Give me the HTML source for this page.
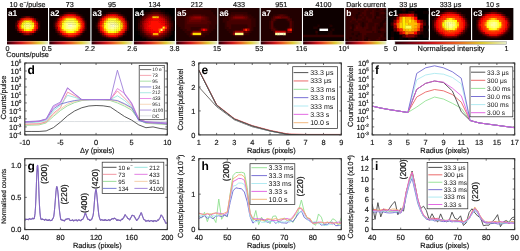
<!DOCTYPE html><html><head><meta charset="utf-8"><style>html,body{margin:0;padding:0;background:#fff;overflow:hidden}svg{display:block;text-rendering:geometricPrecision}</style></head><body><svg width="520" height="251" viewBox="0 0 520 251">
<defs><linearGradient id="hotg" x1="0" x2="1" y1="0" y2="0"><stop offset="0" stop-color="#2a0006"/><stop offset="0.15" stop-color="#7a0010"/><stop offset="0.35" stop-color="#d01818"/><stop offset="0.55" stop-color="#e86020"/><stop offset="0.78" stop-color="#dcc830"/><stop offset="1" stop-color="#e4ecc8"/></linearGradient><filter id="bl" x="-5%" y="-5%" width="110%" height="110%"><feGaussianBlur stdDeviation="0.55"/></filter></defs>
<rect width="520" height="251" fill="#fff"/>
<rect x="7.00" y="8.0" width="41.0" height="33.0" fill="#000"/>
<clipPath id="ic0"><rect x="7.00" y="8.0" width="41.0" height="33.0"/></clipPath><g clip-path="url(#ic0)"><g filter="url(#bl)">
<path fill="#110000" d="M7.00 8.00h41.00v2.41h-41.00zM7.00 10.06h41.00v2.41h-41.00zM7.00 12.12h41.00v2.41h-41.00zM7.00 14.19h41.00v2.41h-41.00zM7.00 16.25h14.70v2.41h-14.70zM33.65 16.25h14.35v2.41h-14.35zM7.00 18.31h10.60v2.41h-10.60zM37.75 18.31h10.25v2.41h-10.25zM7.00 20.38h8.55v2.41h-8.55zM39.80 20.38h8.20v2.41h-8.20zM7.00 22.44h8.55v2.41h-8.55zM39.80 22.44h8.20v2.41h-8.20zM7.00 24.50h8.55v2.41h-8.55zM39.80 24.50h8.20v2.41h-8.20zM7.00 26.56h8.55v2.41h-8.55zM39.80 26.56h8.20v2.41h-8.20zM7.00 28.62h8.55v2.41h-8.55zM39.80 28.62h8.20v2.41h-8.20zM7.00 30.69h10.60v2.41h-10.60zM37.75 30.69h10.25v2.41h-10.25zM7.00 32.75h14.70v2.41h-14.70zM33.65 32.75h14.35v2.41h-14.35zM7.00 34.81h41.00v2.41h-41.00zM7.00 36.88h41.00v2.41h-41.00zM7.00 38.94h41.00v2.06h-41.00z"/>
<path fill="#330000" d="M21.35 16.25h2.40v2.41h-2.40zM31.60 16.25h2.40v2.41h-2.40zM37.75 22.44h2.40v2.41h-2.40zM37.75 26.56h2.40v2.41h-2.40zM17.25 30.69h2.40v2.41h-2.40zM21.35 32.75h2.40v2.41h-2.40zM31.60 32.75h2.40v2.41h-2.40z"/>
<path fill="#550000" d="M23.40 16.25h2.40v2.41h-2.40zM29.55 16.25h2.40v2.41h-2.40zM15.20 24.50h2.40v2.41h-2.40z"/>
<path fill="#880000" d="M25.45 16.25h4.45v2.41h-4.45zM19.30 18.31h2.40v2.41h-2.40zM35.70 20.38h2.40v2.41h-2.40zM35.70 28.62h2.40v2.41h-2.40zM33.65 30.69h2.40v2.41h-2.40z"/>
<path fill="#220000" d="M17.25 18.31h2.40v2.41h-2.40zM35.70 18.31h2.40v2.41h-2.40zM15.20 20.38h2.40v2.41h-2.40zM37.75 20.38h2.40v2.41h-2.40zM15.20 28.62h2.40v2.41h-2.40zM37.75 28.62h2.40v2.41h-2.40zM35.70 30.69h2.40v2.41h-2.40z"/>
<path fill="#ee0000" d="M21.35 18.31h2.40v2.41h-2.40zM31.60 18.31h2.40v2.41h-2.40zM17.25 22.44h2.40v2.41h-2.40zM35.70 24.50h2.40v2.41h-2.40zM17.25 26.56h2.40v2.41h-2.40zM21.35 30.69h2.40v2.41h-2.40zM31.60 30.69h2.40v2.41h-2.40z"/>
<path fill="#ff2200" d="M23.40 18.31h2.40v2.41h-2.40zM29.55 18.31h2.40v2.41h-2.40zM23.40 30.69h2.40v2.41h-2.40zM29.55 30.69h2.40v2.41h-2.40z"/>
<path fill="#ff3300" d="M25.45 18.31h4.45v2.41h-4.45zM25.45 30.69h4.45v2.41h-4.45z"/>
<path fill="#770000" d="M33.65 18.31h2.40v2.41h-2.40zM23.40 32.75h2.40v2.41h-2.40z"/>
<path fill="#990000" d="M17.25 20.38h2.40v2.41h-2.40zM17.25 28.62h2.40v2.41h-2.40zM19.30 30.69h2.40v2.41h-2.40zM25.45 32.75h4.45v2.41h-4.45z"/>
<path fill="#ff1100" d="M19.30 20.38h2.40v2.41h-2.40zM19.30 28.62h2.40v2.41h-2.40zM33.65 28.62h2.40v2.41h-2.40z"/>
<path fill="#ff5500" d="M21.35 20.38h2.40v2.41h-2.40zM31.60 20.38h2.40v2.41h-2.40zM33.65 24.50h2.40v2.41h-2.40zM19.30 26.56h2.40v2.41h-2.40zM31.60 28.62h2.40v2.41h-2.40z"/>
<path fill="#ffdd00" d="M23.40 20.38h2.40v2.41h-2.40zM29.55 28.62h2.40v2.41h-2.40z"/>
<path fill="#ffff00" d="M25.45 20.38h4.45v2.41h-4.45zM21.35 22.44h2.40v2.41h-2.40zM21.35 26.56h2.40v2.41h-2.40zM31.60 26.56h2.40v2.41h-2.40zM25.45 28.62h4.45v2.41h-4.45z"/>
<path fill="#ffcc00" d="M29.55 20.38h2.40v2.41h-2.40z"/>
<path fill="#ff0000" d="M33.65 20.38h2.40v2.41h-2.40zM17.25 24.50h2.40v2.41h-2.40z"/>
<path fill="#440000" d="M15.20 22.44h2.40v2.41h-2.40zM37.75 24.50h2.40v2.41h-2.40zM15.20 26.56h2.40v2.41h-2.40z"/>
<path fill="#ff4400" d="M19.30 22.44h2.40v2.41h-2.40zM33.65 22.44h2.40v2.41h-2.40zM33.65 26.56h2.40v2.41h-2.40z"/>
<path fill="#ffff33" d="M23.40 22.44h2.40v2.41h-2.40zM29.55 22.44h2.40v2.41h-2.40zM29.55 26.56h2.40v2.41h-2.40z"/>
<path fill="#ffff66" d="M25.45 22.44h4.45v2.41h-4.45zM23.40 24.50h2.40v2.41h-2.40zM29.55 24.50h2.40v2.41h-2.40zM25.45 26.56h4.45v2.41h-4.45z"/>
<path fill="#ffee00" d="M31.60 22.44h2.40v2.41h-2.40zM23.40 28.62h2.40v2.41h-2.40z"/>
<path fill="#dd0000" d="M35.70 22.44h2.40v2.41h-2.40zM35.70 26.56h2.40v2.41h-2.40z"/>
<path fill="#ff7700" d="M19.30 24.50h2.40v2.41h-2.40z"/>
<path fill="#ffff1a" d="M21.35 24.50h2.40v2.41h-2.40zM31.60 24.50h2.40v2.41h-2.40z"/>
<path fill="#ffff80" d="M25.45 24.50h4.45v2.41h-4.45z"/>
<path fill="#ffff4c" d="M23.40 26.56h2.40v2.41h-2.40z"/>
<path fill="#ff6600" d="M21.35 28.62h2.40v2.41h-2.40z"/>
<path fill="#660000" d="M29.55 32.75h2.40v2.41h-2.40z"/>
</g></g>
<rect x="49.30" y="8.0" width="41.0" height="33.0" fill="#000"/>
<clipPath id="ic1"><rect x="49.30" y="8.0" width="41.0" height="33.0"/></clipPath><g clip-path="url(#ic1)"><g filter="url(#bl)">
<path fill="#110000" d="M49.30 8.00h41.00v2.41h-41.00zM49.30 10.06h41.00v2.41h-41.00zM49.30 12.12h14.70v2.41h-14.70zM78.00 12.12h12.30v2.41h-12.30zM49.30 14.19h10.60v2.41h-10.60zM82.10 14.19h8.20v2.41h-8.20zM49.30 16.25h8.55v2.41h-8.55zM84.15 16.25h6.15v2.41h-6.15zM49.30 18.31h6.50v2.41h-6.50zM84.15 18.31h6.15v2.41h-6.15zM49.30 20.38h4.45v2.41h-4.45zM86.20 20.38h4.10v2.41h-4.10zM49.30 22.44h4.45v2.41h-4.45zM86.20 22.44h4.10v2.41h-4.10zM49.30 24.50h4.45v2.41h-4.45zM86.20 24.50h4.10v2.41h-4.10zM49.30 26.56h4.45v2.41h-4.45zM86.20 26.56h4.10v2.41h-4.10zM49.30 28.62h6.50v2.41h-6.50zM86.20 28.62h4.10v2.41h-4.10zM49.30 30.69h6.50v2.41h-6.50zM84.15 30.69h6.15v2.41h-6.15zM49.30 32.75h8.55v2.41h-8.55zM82.10 32.75h8.20v2.41h-8.20zM49.30 34.81h10.60v2.41h-10.60zM80.05 34.81h10.25v2.41h-10.25zM49.30 36.88h16.75v2.41h-16.75zM75.95 36.88h14.35v2.41h-14.35zM49.30 38.94h41.00v2.06h-41.00z"/>
<path fill="#220000" d="M63.65 12.12h2.40v2.41h-2.40zM75.95 12.12h2.40v2.41h-2.40zM80.05 14.19h2.40v2.41h-2.40zM82.10 16.25h2.40v2.41h-2.40zM53.40 20.38h2.40v2.41h-2.40zM53.40 26.56h2.40v2.41h-2.40zM59.55 34.81h2.40v2.41h-2.40zM65.70 36.88h2.40v2.41h-2.40zM73.90 36.88h2.40v2.41h-2.40z"/>
<path fill="#330000" d="M65.70 12.12h2.40v2.41h-2.40zM73.90 12.12h2.40v2.41h-2.40zM59.55 14.19h2.40v2.41h-2.40zM57.50 16.25h2.40v2.41h-2.40zM55.45 18.31h2.40v2.41h-2.40zM84.15 20.38h2.40v2.41h-2.40zM53.40 22.44h2.40v2.41h-2.40zM53.40 24.50h2.40v2.41h-2.40zM84.15 28.62h2.40v2.41h-2.40zM55.45 30.69h2.40v2.41h-2.40zM57.50 32.75h2.40v2.41h-2.40zM78.00 34.81h2.40v2.41h-2.40zM67.75 36.88h6.50v2.41h-6.50z"/>
<path fill="#440000" d="M67.75 12.12h6.50v2.41h-6.50zM78.00 14.19h2.40v2.41h-2.40zM84.15 22.44h2.40v2.41h-2.40zM84.15 24.50h2.40v2.41h-2.40zM84.15 26.56h2.40v2.41h-2.40zM82.10 30.69h2.40v2.41h-2.40zM80.05 32.75h2.40v2.41h-2.40zM61.60 34.81h2.40v2.41h-2.40z"/>
<path fill="#550000" d="M61.60 14.19h2.40v2.41h-2.40zM80.05 16.25h2.40v2.41h-2.40zM82.10 18.31h2.40v2.41h-2.40zM55.45 20.38h2.40v2.41h-2.40zM55.45 28.62h2.40v2.41h-2.40zM75.95 34.81h2.40v2.41h-2.40z"/>
<path fill="#aa0000" d="M63.65 14.19h2.40v2.41h-2.40zM82.10 20.38h2.40v2.41h-2.40zM55.45 24.50h2.40v2.41h-2.40zM78.00 32.75h2.40v2.41h-2.40z"/>
<path fill="#dd0000" d="M65.70 14.19h2.40v2.41h-2.40zM78.00 16.25h2.40v2.41h-2.40zM80.05 18.31h2.40v2.41h-2.40zM82.10 26.56h2.40v2.41h-2.40zM61.60 32.75h2.40v2.41h-2.40zM67.75 34.81h4.45v2.41h-4.45z"/>
<path fill="#ff0000" d="M67.75 14.19h4.45v2.41h-4.45zM61.60 16.25h2.40v2.41h-2.40zM59.55 30.69h2.40v2.41h-2.40zM75.95 32.75h2.40v2.41h-2.40z"/>
<path fill="#ee0000" d="M71.85 14.19h2.40v2.41h-2.40zM57.50 20.38h2.40v2.41h-2.40zM82.10 22.44h2.40v2.41h-2.40zM82.10 24.50h2.40v2.41h-2.40zM57.50 28.62h2.40v2.41h-2.40z"/>
<path fill="#cc0000" d="M73.90 14.19h2.40v2.41h-2.40zM80.05 30.69h2.40v2.41h-2.40zM71.85 34.81h2.40v2.41h-2.40z"/>
<path fill="#770000" d="M75.95 14.19h2.40v2.41h-2.40zM57.50 30.69h2.40v2.41h-2.40zM59.55 32.75h2.40v2.41h-2.40zM63.65 34.81h2.40v2.41h-2.40z"/>
<path fill="#990000" d="M59.55 16.25h2.40v2.41h-2.40zM57.50 18.31h2.40v2.41h-2.40zM55.45 22.44h2.40v2.41h-2.40zM82.10 28.62h2.40v2.41h-2.40zM73.90 34.81h2.40v2.41h-2.40z"/>
<path fill="#ff2200" d="M63.65 16.25h2.40v2.41h-2.40zM78.00 18.31h2.40v2.41h-2.40zM80.05 20.38h2.40v2.41h-2.40zM57.50 24.50h2.40v2.41h-2.40zM78.00 30.69h2.40v2.41h-2.40zM73.90 32.75h2.40v2.41h-2.40z"/>
<path fill="#ff4400" d="M65.70 16.25h2.40v2.41h-2.40zM61.60 18.31h2.40v2.41h-2.40zM59.55 20.38h2.40v2.41h-2.40zM80.05 24.50h2.40v2.41h-2.40zM75.95 30.69h2.40v2.41h-2.40zM67.75 32.75h4.45v2.41h-4.45z"/>
<path fill="#ff5500" d="M67.75 16.25h6.50v2.41h-6.50zM75.95 18.31h2.40v2.41h-2.40zM59.55 26.56h2.40v2.41h-2.40zM78.00 28.62h2.40v2.41h-2.40z"/>
<path fill="#ff3300" d="M73.90 16.25h2.40v2.41h-2.40zM80.05 22.44h2.40v2.41h-2.40zM80.05 26.56h2.40v2.41h-2.40zM59.55 28.62h2.40v2.41h-2.40zM61.60 30.69h2.40v2.41h-2.40zM65.70 32.75h2.40v2.41h-2.40zM71.85 32.75h2.40v2.41h-2.40z"/>
<path fill="#ff1100" d="M75.95 16.25h2.40v2.41h-2.40zM59.55 18.31h2.40v2.41h-2.40zM57.50 22.44h2.40v2.41h-2.40zM57.50 26.56h2.40v2.41h-2.40zM80.05 28.62h2.40v2.41h-2.40zM63.65 32.75h2.40v2.41h-2.40z"/>
<path fill="#ff9900" d="M63.65 18.31h2.40v2.41h-2.40zM61.60 28.62h2.40v2.41h-2.40z"/>
<path fill="#ffff00" d="M65.70 18.31h2.40v2.41h-2.40zM75.95 20.38h2.40v2.41h-2.40zM61.60 22.44h2.40v2.41h-2.40zM61.60 26.56h2.40v2.41h-2.40zM67.75 30.69h6.50v2.41h-6.50z"/>
<path fill="#ffff1a" d="M67.75 18.31h6.50v2.41h-6.50zM63.65 20.38h2.40v2.41h-2.40zM61.60 24.50h2.40v2.41h-2.40zM75.95 26.56h2.40v2.41h-2.40zM63.65 28.62h2.40v2.41h-2.40z"/>
<path fill="#ffdd00" d="M73.90 18.31h2.40v2.41h-2.40zM78.00 24.50h2.40v2.41h-2.40zM65.70 30.69h2.40v2.41h-2.40z"/>
<path fill="#ffbb00" d="M61.60 20.38h2.40v2.41h-2.40zM78.00 22.44h2.40v2.41h-2.40z"/>
<path fill="#ffff4c" d="M65.70 20.38h2.40v2.41h-2.40zM63.65 22.44h2.40v2.41h-2.40zM63.65 24.50h2.40v2.41h-2.40zM63.65 26.56h2.40v2.41h-2.40zM67.75 28.62h2.40v2.41h-2.40zM71.85 28.62h2.40v2.41h-2.40z"/>
<path fill="#ffff66" d="M67.75 20.38h6.50v2.41h-6.50zM73.90 22.44h2.40v2.41h-2.40zM73.90 26.56h2.40v2.41h-2.40zM69.80 28.62h2.40v2.41h-2.40z"/>
<path fill="#ffff33" d="M73.90 20.38h2.40v2.41h-2.40zM75.95 22.44h2.40v2.41h-2.40zM75.95 24.50h2.40v2.41h-2.40zM65.70 28.62h2.40v2.41h-2.40zM73.90 28.62h2.40v2.41h-2.40z"/>
<path fill="#ff6600" d="M78.00 20.38h2.40v2.41h-2.40zM59.55 22.44h2.40v2.41h-2.40z"/>
<path fill="#ffff80" d="M65.70 22.44h2.40v2.41h-2.40zM71.85 22.44h2.40v2.41h-2.40zM65.70 24.50h2.40v2.41h-2.40zM73.90 24.50h2.40v2.41h-2.40zM65.70 26.56h2.40v2.41h-2.40zM71.85 26.56h2.40v2.41h-2.40z"/>
<path fill="#ffff99" d="M67.75 22.44h4.45v2.41h-4.45zM71.85 24.50h2.40v2.41h-2.40zM67.75 26.56h4.45v2.41h-4.45z"/>
<path fill="#ff7700" d="M59.55 24.50h2.40v2.41h-2.40zM63.65 30.69h2.40v2.41h-2.40z"/>
<path fill="#ffffb3" d="M67.75 24.50h2.40v2.41h-2.40z"/>
<path fill="#ffffcc" d="M69.80 24.50h2.40v2.41h-2.40z"/>
<path fill="#880000" d="M55.45 26.56h2.40v2.41h-2.40z"/>
<path fill="#ffaa00" d="M78.00 26.56h2.40v2.41h-2.40zM73.90 30.69h2.40v2.41h-2.40z"/>
<path fill="#ffee00" d="M75.95 28.62h2.40v2.41h-2.40z"/>
<path fill="#bb0000" d="M65.70 34.81h2.40v2.41h-2.40z"/>
</g></g>
<rect x="91.60" y="8.0" width="41.0" height="33.0" fill="#000"/>
<clipPath id="ic2"><rect x="91.60" y="8.0" width="41.0" height="33.0"/></clipPath><g clip-path="url(#ic2)"><g filter="url(#bl)">
<path fill="#110000" d="M91.60 8.00h41.00v2.41h-41.00zM91.60 10.06h41.00v2.41h-41.00zM91.60 12.12h14.70v2.41h-14.70zM120.30 12.12h12.30v2.41h-12.30zM91.60 14.19h10.60v2.41h-10.60zM124.40 14.19h8.20v2.41h-8.20zM91.60 16.25h8.55v2.41h-8.55zM126.45 16.25h6.15v2.41h-6.15zM91.60 18.31h6.50v2.41h-6.50zM126.45 18.31h6.15v2.41h-6.15zM91.60 20.38h6.50v2.41h-6.50zM128.50 20.38h4.10v2.41h-4.10zM91.60 22.44h4.45v2.41h-4.45zM128.50 22.44h4.10v2.41h-4.10zM91.60 24.50h4.45v2.41h-4.45zM128.50 24.50h4.10v2.41h-4.10zM91.60 26.56h4.45v2.41h-4.45zM128.50 26.56h4.10v2.41h-4.10zM91.60 28.62h6.50v2.41h-6.50zM128.50 28.62h4.10v2.41h-4.10zM91.60 30.69h6.50v2.41h-6.50zM126.45 30.69h6.15v2.41h-6.15zM91.60 32.75h8.55v2.41h-8.55zM126.45 32.75h6.15v2.41h-6.15zM91.60 34.81h10.60v2.41h-10.60zM122.35 34.81h10.25v2.41h-10.25zM91.60 36.88h14.70v2.41h-14.70zM118.25 36.88h14.35v2.41h-14.35zM91.60 38.94h41.00v2.06h-41.00z"/>
<path fill="#220000" d="M105.95 12.12h2.40v2.41h-2.40zM118.25 12.12h2.40v2.41h-2.40zM122.35 14.19h2.40v2.41h-2.40zM124.40 16.25h2.40v2.41h-2.40zM95.70 22.44h2.40v2.41h-2.40zM95.70 26.56h2.40v2.41h-2.40zM124.40 32.75h2.40v2.41h-2.40zM105.95 36.88h2.40v2.41h-2.40z"/>
<path fill="#330000" d="M108.00 12.12h2.40v2.41h-2.40zM116.20 12.12h2.40v2.41h-2.40zM101.85 14.19h2.40v2.41h-2.40zM99.80 16.25h2.40v2.41h-2.40zM97.75 18.31h2.40v2.41h-2.40zM126.45 20.38h2.40v2.41h-2.40zM95.70 24.50h2.40v2.41h-2.40zM126.45 28.62h2.40v2.41h-2.40zM97.75 30.69h2.40v2.41h-2.40zM99.80 32.75h2.40v2.41h-2.40zM101.85 34.81h2.40v2.41h-2.40zM108.00 36.88h2.40v2.41h-2.40zM116.20 36.88h2.40v2.41h-2.40z"/>
<path fill="#440000" d="M110.05 12.12h6.50v2.41h-6.50zM120.30 14.19h2.40v2.41h-2.40zM124.40 18.31h2.40v2.41h-2.40zM126.45 22.44h2.40v2.41h-2.40zM126.45 24.50h2.40v2.41h-2.40zM126.45 26.56h2.40v2.41h-2.40zM124.40 30.69h2.40v2.41h-2.40zM120.30 34.81h2.40v2.41h-2.40zM110.05 36.88h6.50v2.41h-6.50z"/>
<path fill="#550000" d="M103.90 14.19h2.40v2.41h-2.40zM122.35 16.25h2.40v2.41h-2.40zM97.75 20.38h2.40v2.41h-2.40zM97.75 28.62h2.40v2.41h-2.40zM122.35 32.75h2.40v2.41h-2.40zM103.90 34.81h2.40v2.41h-2.40z"/>
<path fill="#aa0000" d="M105.95 14.19h2.40v2.41h-2.40zM124.40 20.38h2.40v2.41h-2.40zM97.75 24.50h2.40v2.41h-2.40zM124.40 28.62h2.40v2.41h-2.40z"/>
<path fill="#dd0000" d="M108.00 14.19h2.40v2.41h-2.40zM120.30 16.25h2.40v2.41h-2.40zM122.35 18.31h2.40v2.41h-2.40zM124.40 22.44h2.40v2.41h-2.40zM124.40 26.56h2.40v2.41h-2.40zM122.35 30.69h2.40v2.41h-2.40zM108.00 34.81h2.40v2.41h-2.40z"/>
<path fill="#ee0000" d="M110.05 14.19h2.40v2.41h-2.40zM114.15 14.19h2.40v2.41h-2.40zM99.80 20.38h2.40v2.41h-2.40zM124.40 24.50h2.40v2.41h-2.40zM99.80 28.62h2.40v2.41h-2.40zM103.90 32.75h2.40v2.41h-2.40zM110.05 34.81h6.50v2.41h-6.50z"/>
<path fill="#ff0000" d="M112.10 14.19h2.40v2.41h-2.40zM103.90 16.25h2.40v2.41h-2.40zM101.85 30.69h2.40v2.41h-2.40z"/>
<path fill="#cc0000" d="M116.20 14.19h2.40v2.41h-2.40zM120.30 32.75h2.40v2.41h-2.40zM116.20 34.81h2.40v2.41h-2.40z"/>
<path fill="#770000" d="M118.25 14.19h2.40v2.41h-2.40zM118.25 34.81h2.40v2.41h-2.40z"/>
<path fill="#990000" d="M101.85 16.25h2.40v2.41h-2.40zM99.80 18.31h2.40v2.41h-2.40zM97.75 22.44h2.40v2.41h-2.40zM99.80 30.69h2.40v2.41h-2.40zM105.95 34.81h2.40v2.41h-2.40z"/>
<path fill="#ff2200" d="M105.95 16.25h2.40v2.41h-2.40zM120.30 18.31h2.40v2.41h-2.40zM122.35 20.38h2.40v2.41h-2.40zM99.80 24.50h2.40v2.41h-2.40zM122.35 28.62h2.40v2.41h-2.40zM120.30 30.69h2.40v2.41h-2.40zM105.95 32.75h2.40v2.41h-2.40z"/>
<path fill="#ff4400" d="M108.00 16.25h2.40v2.41h-2.40zM114.15 16.25h2.40v2.41h-2.40zM103.90 18.31h2.40v2.41h-2.40zM122.35 24.50h2.40v2.41h-2.40zM103.90 30.69h2.40v2.41h-2.40zM108.00 32.75h2.40v2.41h-2.40zM114.15 32.75h2.40v2.41h-2.40z"/>
<path fill="#ff5500" d="M110.05 16.25h4.45v2.41h-4.45zM118.25 18.31h2.40v2.41h-2.40zM120.30 20.38h2.40v2.41h-2.40zM101.85 22.44h2.40v2.41h-2.40zM101.85 26.56h2.40v2.41h-2.40zM120.30 28.62h2.40v2.41h-2.40zM118.25 30.69h2.40v2.41h-2.40zM110.05 32.75h4.45v2.41h-4.45z"/>
<path fill="#ff3300" d="M116.20 16.25h2.40v2.41h-2.40zM101.85 20.38h2.40v2.41h-2.40zM122.35 22.44h2.40v2.41h-2.40zM122.35 26.56h2.40v2.41h-2.40zM101.85 28.62h2.40v2.41h-2.40zM116.20 32.75h2.40v2.41h-2.40z"/>
<path fill="#ff1100" d="M118.25 16.25h2.40v2.41h-2.40zM101.85 18.31h2.40v2.41h-2.40zM99.80 22.44h2.40v2.41h-2.40zM99.80 26.56h2.40v2.41h-2.40zM118.25 32.75h2.40v2.41h-2.40z"/>
<path fill="#ff9900" d="M105.95 18.31h2.40v2.41h-2.40zM105.95 30.69h2.40v2.41h-2.40z"/>
<path fill="#ffff00" d="M108.00 18.31h2.40v2.41h-2.40zM118.25 20.38h2.40v2.41h-2.40zM103.90 22.44h2.40v2.41h-2.40zM103.90 26.56h2.40v2.41h-2.40zM118.25 28.62h2.40v2.41h-2.40zM108.00 30.69h2.40v2.41h-2.40zM114.15 30.69h2.40v2.41h-2.40z"/>
<path fill="#ffff1a" d="M110.05 18.31h6.50v2.41h-6.50zM105.95 20.38h2.40v2.41h-2.40zM103.90 24.50h2.40v2.41h-2.40zM105.95 28.62h2.40v2.41h-2.40zM110.05 30.69h4.45v2.41h-4.45z"/>
<path fill="#ffcc00" d="M116.20 18.31h2.40v2.41h-2.40zM116.20 30.69h2.40v2.41h-2.40z"/>
<path fill="#ffaa00" d="M103.90 20.38h2.40v2.41h-2.40zM103.90 28.62h2.40v2.41h-2.40z"/>
<path fill="#ffff4c" d="M108.00 20.38h2.40v2.41h-2.40zM114.15 20.38h2.40v2.41h-2.40zM105.95 22.44h2.40v2.41h-2.40zM105.95 24.50h2.40v2.41h-2.40zM105.95 26.56h2.40v2.41h-2.40zM108.00 28.62h2.40v2.41h-2.40zM114.15 28.62h2.40v2.41h-2.40z"/>
<path fill="#ffff66" d="M110.05 20.38h4.45v2.41h-4.45zM116.20 22.44h2.40v2.41h-2.40zM116.20 26.56h2.40v2.41h-2.40zM110.05 28.62h4.45v2.41h-4.45z"/>
<path fill="#ffff33" d="M116.20 20.38h2.40v2.41h-2.40zM118.25 22.44h2.40v2.41h-2.40zM118.25 24.50h2.40v2.41h-2.40zM118.25 26.56h2.40v2.41h-2.40zM116.20 28.62h2.40v2.41h-2.40z"/>
<path fill="#ffff80" d="M108.00 22.44h2.40v2.41h-2.40zM114.15 22.44h2.40v2.41h-2.40zM108.00 24.50h2.40v2.41h-2.40zM116.20 24.50h2.40v2.41h-2.40zM108.00 26.56h2.40v2.41h-2.40zM114.15 26.56h2.40v2.41h-2.40z"/>
<path fill="#ffff99" d="M110.05 22.44h4.45v2.41h-4.45zM114.15 24.50h2.40v2.41h-2.40zM110.05 26.56h4.45v2.41h-4.45z"/>
<path fill="#ffbb00" d="M120.30 22.44h2.40v2.41h-2.40zM120.30 26.56h2.40v2.41h-2.40z"/>
<path fill="#ff7700" d="M101.85 24.50h2.40v2.41h-2.40z"/>
<path fill="#ffffb3" d="M110.05 24.50h2.40v2.41h-2.40z"/>
<path fill="#ffffcc" d="M112.10 24.50h2.40v2.41h-2.40z"/>
<path fill="#ffdd00" d="M120.30 24.50h2.40v2.41h-2.40z"/>
<path fill="#880000" d="M97.75 26.56h2.40v2.41h-2.40zM101.85 32.75h2.40v2.41h-2.40z"/>
</g></g>
<rect x="133.90" y="8.0" width="41.0" height="33.0" fill="#000"/>
<clipPath id="ic3"><rect x="133.90" y="8.0" width="41.0" height="33.0"/></clipPath><g clip-path="url(#ic3)"><g filter="url(#bl)">
<path fill="#110000" d="M152.35 8.00h6.50v2.41h-6.50zM146.20 10.06h4.45v2.41h-4.45zM160.55 10.06h4.45v2.41h-4.45zM142.10 12.12h2.40v2.41h-2.40zM164.65 12.12h4.45v2.41h-4.45zM140.05 14.19h2.40v2.41h-2.40zM168.75 14.19h2.40v2.41h-2.40zM138.00 16.25h2.40v2.41h-2.40zM170.80 16.25h2.40v2.41h-2.40zM135.95 18.31h2.40v2.41h-2.40zM170.80 18.31h2.40v2.41h-2.40zM135.95 20.38h2.40v2.41h-2.40zM172.85 20.38h2.05v2.41h-2.05zM135.95 22.44h2.40v2.41h-2.40zM172.85 22.44h2.05v2.41h-2.05zM135.95 24.50h2.40v2.41h-2.40zM172.85 24.50h2.05v2.41h-2.05zM135.95 26.56h2.40v2.41h-2.40zM172.85 26.56h2.05v2.41h-2.05zM135.95 28.62h2.40v2.41h-2.40zM172.85 28.62h2.05v2.41h-2.05zM138.00 30.69h2.40v2.41h-2.40zM170.80 30.69h2.40v2.41h-2.40zM138.00 32.75h2.40v2.41h-2.40zM170.80 32.75h2.40v2.41h-2.40zM140.05 34.81h2.40v2.41h-2.40zM168.75 34.81h2.40v2.41h-2.40zM142.10 36.88h4.45v2.41h-4.45zM164.65 36.88h4.45v2.41h-4.45zM146.20 38.94h6.50v2.06h-6.50zM158.50 38.94h6.50v2.06h-6.50z"/>
<path fill="#220000" d="M150.30 10.06h10.60v2.41h-10.60zM144.15 12.12h4.45v2.41h-4.45zM162.60 12.12h2.40v2.41h-2.40zM142.10 14.19h2.40v2.41h-2.40zM166.70 14.19h2.40v2.41h-2.40zM140.05 16.25h2.40v2.41h-2.40zM168.75 16.25h2.40v2.41h-2.40zM138.00 18.31h2.40v2.41h-2.40zM138.00 20.38h2.40v2.41h-2.40zM170.80 20.38h2.40v2.41h-2.40zM170.80 26.56h2.40v2.41h-2.40zM138.00 28.62h2.40v2.41h-2.40zM170.80 28.62h2.40v2.41h-2.40zM140.05 32.75h2.40v2.41h-2.40zM168.75 32.75h2.40v2.41h-2.40zM142.10 34.81h2.40v2.41h-2.40zM166.70 34.81h2.40v2.41h-2.40zM146.20 36.88h2.40v2.41h-2.40zM162.60 36.88h2.40v2.41h-2.40zM152.35 38.94h6.50v2.06h-6.50z"/>
<path fill="#330000" d="M148.25 12.12h2.40v2.41h-2.40zM160.55 12.12h2.40v2.41h-2.40zM144.15 14.19h2.40v2.41h-2.40zM164.65 14.19h2.40v2.41h-2.40zM140.05 18.31h2.40v2.41h-2.40zM168.75 18.31h2.40v2.41h-2.40zM138.00 22.44h2.40v2.41h-2.40zM170.80 22.44h2.40v2.41h-2.40zM138.00 24.50h2.40v2.41h-2.40zM170.80 24.50h2.40v2.41h-2.40zM138.00 26.56h2.40v2.41h-2.40zM140.05 30.69h2.40v2.41h-2.40zM168.75 30.69h2.40v2.41h-2.40zM142.10 32.75h2.40v2.41h-2.40zM166.70 32.75h2.40v2.41h-2.40zM144.15 34.81h2.40v2.41h-2.40zM164.65 34.81h2.40v2.41h-2.40zM148.25 36.88h2.40v2.41h-2.40zM160.55 36.88h2.40v2.41h-2.40z"/>
<path fill="#440000" d="M150.30 12.12h2.40v2.41h-2.40zM158.50 12.12h2.40v2.41h-2.40zM142.10 16.25h2.40v2.41h-2.40zM166.70 16.25h2.40v2.41h-2.40zM168.75 20.38h2.40v2.41h-2.40zM140.05 28.62h2.40v2.41h-2.40zM168.75 28.62h2.40v2.41h-2.40zM146.20 34.81h2.40v2.41h-2.40zM162.60 34.81h2.40v2.41h-2.40zM150.30 36.88h10.60v2.41h-10.60z"/>
<path fill="#550000" d="M152.35 12.12h6.50v2.41h-6.50zM146.20 14.19h2.40v2.41h-2.40zM162.60 14.19h2.40v2.41h-2.40zM166.70 18.31h2.40v2.41h-2.40zM140.05 20.38h2.40v2.41h-2.40zM140.05 22.44h2.40v2.41h-2.40zM168.75 22.44h2.40v2.41h-2.40zM168.75 24.50h2.40v2.41h-2.40zM140.05 26.56h2.40v2.41h-2.40zM168.75 26.56h2.40v2.41h-2.40zM142.10 30.69h2.40v2.41h-2.40zM166.70 30.69h2.40v2.41h-2.40zM144.15 32.75h2.40v2.41h-2.40zM164.65 32.75h2.40v2.41h-2.40z"/>
<path fill="#770000" d="M148.25 14.19h2.40v2.41h-2.40zM160.55 14.19h2.40v2.41h-2.40zM166.70 20.38h2.40v2.41h-2.40zM142.10 28.62h2.40v2.41h-2.40zM166.70 28.62h2.40v2.41h-2.40zM162.60 32.75h2.40v2.41h-2.40zM150.30 34.81h2.40v2.41h-2.40zM158.50 34.81h2.40v2.41h-2.40z"/>
<path fill="#880000" d="M150.30 14.19h2.40v2.41h-2.40zM158.50 14.19h2.40v2.41h-2.40zM146.20 16.25h2.40v2.41h-2.40zM162.60 16.25h2.40v2.41h-2.40zM164.65 18.31h2.40v2.41h-2.40zM142.10 20.38h2.40v2.41h-2.40zM166.70 22.44h2.40v2.41h-2.40zM142.10 26.56h2.40v2.41h-2.40zM166.70 26.56h2.40v2.41h-2.40zM144.15 30.69h2.40v2.41h-2.40zM164.65 30.69h2.40v2.41h-2.40zM146.20 32.75h2.40v2.41h-2.40zM152.35 34.81h6.50v2.41h-6.50z"/>
<path fill="#990000" d="M152.35 14.19h6.50v2.41h-6.50zM144.15 18.31h2.40v2.41h-2.40zM142.10 22.44h2.40v2.41h-2.40zM142.10 24.50h2.40v2.41h-2.40zM166.70 24.50h2.40v2.41h-2.40zM148.25 32.75h2.40v2.41h-2.40zM160.55 32.75h2.40v2.41h-2.40z"/>
<path fill="#660000" d="M144.15 16.25h2.40v2.41h-2.40zM164.65 16.25h2.40v2.41h-2.40zM142.10 18.31h2.40v2.41h-2.40zM140.05 24.50h2.40v2.41h-2.40zM148.25 34.81h2.40v2.41h-2.40zM160.55 34.81h2.40v2.41h-2.40z"/>
<path fill="#aa0000" d="M148.25 16.25h2.40v2.41h-2.40zM160.55 16.25h2.40v2.41h-2.40zM164.65 20.38h2.40v2.41h-2.40zM144.15 28.62h2.40v2.41h-2.40zM164.65 28.62h2.40v2.41h-2.40zM146.20 30.69h2.40v2.41h-2.40zM162.60 30.69h2.40v2.41h-2.40z"/>
<path fill="#cc0000" d="M150.30 16.25h2.40v2.41h-2.40zM158.50 16.25h2.40v2.41h-2.40zM144.15 22.44h2.40v2.41h-2.40zM144.15 24.50h2.40v2.41h-2.40zM164.65 24.50h2.40v2.41h-2.40zM144.15 26.56h2.40v2.41h-2.40zM148.25 30.69h2.40v2.41h-2.40z"/>
<path fill="#ffbb00" d="M152.35 16.25h4.45v2.41h-4.45z"/>
<path fill="#ffaa00" d="M156.45 16.25h2.40v2.41h-2.40zM158.50 30.69h2.40v2.41h-2.40zM152.35 32.75h6.50v2.41h-6.50z"/>
<path fill="#bb0000" d="M146.20 18.31h2.40v2.41h-2.40zM162.60 18.31h2.40v2.41h-2.40zM144.15 20.38h2.40v2.41h-2.40zM164.65 22.44h2.40v2.41h-2.40zM150.30 32.75h2.40v2.41h-2.40zM158.50 32.75h2.40v2.41h-2.40z"/>
<path fill="#dd0000" d="M148.25 18.31h2.40v2.41h-2.40zM160.55 18.31h2.40v2.41h-2.40zM146.20 20.38h2.40v2.41h-2.40zM162.60 20.38h2.40v2.41h-2.40zM146.20 28.62h2.40v2.41h-2.40z"/>
<path fill="#ee0000" d="M150.30 18.31h2.40v2.41h-2.40zM158.50 18.31h2.40v2.41h-2.40zM160.55 20.38h2.40v2.41h-2.40zM146.20 22.44h2.40v2.41h-2.40zM162.60 22.44h2.40v2.41h-2.40zM146.20 24.50h2.40v2.41h-2.40zM162.60 24.50h2.40v2.41h-2.40zM146.20 26.56h2.40v2.41h-2.40zM148.25 28.62h2.40v2.41h-2.40zM150.30 30.69h4.45v2.41h-4.45z"/>
<path fill="#ff0000" d="M152.35 18.31h6.50v2.41h-6.50zM148.25 20.38h2.40v2.41h-2.40zM158.50 20.38h2.40v2.41h-2.40zM148.25 22.44h2.40v2.41h-2.40zM160.55 22.44h2.40v2.41h-2.40zM148.25 26.56h2.40v2.41h-2.40zM150.30 28.62h2.40v2.41h-2.40zM154.40 30.69h4.45v2.41h-4.45z"/>
<path fill="#ff1100" d="M150.30 20.38h8.55v2.41h-8.55zM150.30 22.44h10.60v2.41h-10.60zM148.25 24.50h14.70v2.41h-14.70zM150.30 26.56h12.65v2.41h-12.65zM152.35 28.62h6.50v2.41h-6.50zM160.55 30.69h2.40v2.41h-2.40z"/>
<path fill="#ffff1a" d="M162.60 26.56h2.40v2.41h-2.40z"/>
<path fill="#ff2200" d="M164.65 26.56h2.40v2.41h-2.40z"/>
<path fill="#ff6600" d="M158.50 28.62h2.40v2.41h-2.40z"/>
<path fill="#ffff66" d="M160.55 28.62h2.40v2.41h-2.40z"/>
<path fill="#ff3300" d="M162.60 28.62h2.40v2.41h-2.40z"/>
</g></g>
<rect x="176.20" y="8.0" width="41.0" height="33.0" fill="#000"/>
<clipPath id="ic4"><rect x="176.20" y="8.0" width="41.0" height="33.0"/></clipPath><g clip-path="url(#ic4)"><g filter="url(#bl)">
<path fill="#220000" d="M176.20 8.00h14.70v2.41h-14.70zM202.85 8.00h14.35v2.41h-14.35zM176.20 10.06h6.50v2.41h-6.50zM211.05 10.06h6.15v2.41h-6.15zM176.20 12.12h4.45v2.41h-4.45zM213.10 12.12h4.10v2.41h-4.10zM176.20 14.19h2.40v2.41h-2.40zM215.15 14.19h2.05v2.41h-2.05zM176.20 24.50h2.40v2.41h-2.40zM215.15 24.50h2.05v2.41h-2.05zM176.20 26.56h4.45v2.41h-4.45zM215.15 26.56h2.05v2.41h-2.05zM176.20 28.62h6.50v2.41h-6.50zM213.10 28.62h4.10v2.41h-4.10zM176.20 30.69h8.55v2.41h-8.55zM211.05 30.69h6.15v2.41h-6.15zM176.20 32.75h10.60v2.41h-10.60zM209.00 32.75h8.20v2.41h-8.20zM176.20 34.81h12.65v2.41h-12.65zM204.90 34.81h12.30v2.41h-12.30zM176.20 36.88h41.00v2.41h-41.00zM176.20 38.94h41.00v2.06h-41.00z"/>
<path fill="#330000" d="M190.55 8.00h12.65v2.41h-12.65zM182.35 10.06h29.05v2.41h-29.05zM180.30 12.12h33.15v2.41h-33.15zM178.25 14.19h10.60v2.41h-10.60zM204.90 14.19h10.60v2.41h-10.60zM176.20 16.25h8.55v2.41h-8.55zM209.00 16.25h8.20v2.41h-8.20zM176.20 18.31h8.55v2.41h-8.55zM209.00 18.31h8.20v2.41h-8.20zM176.20 20.38h8.55v2.41h-8.55zM211.05 20.38h6.15v2.41h-6.15zM176.20 22.44h8.55v2.41h-8.55zM211.05 22.44h6.15v2.41h-6.15zM178.25 24.50h6.50v2.41h-6.50zM209.00 24.50h6.50v2.41h-6.50zM180.30 26.56h4.45v2.41h-4.45zM190.55 26.56h10.60v2.41h-10.60zM209.00 26.56h6.50v2.41h-6.50zM182.35 28.62h4.45v2.41h-4.45zM190.55 28.62h8.55v2.41h-8.55zM209.00 28.62h4.45v2.41h-4.45zM184.40 30.69h6.50v2.41h-6.50zM206.95 30.69h4.45v2.41h-4.45zM186.45 32.75h4.45v2.41h-4.45zM202.85 32.75h6.50v2.41h-6.50zM188.50 34.81h16.75v2.41h-16.75z"/>
<path fill="#440000" d="M188.50 14.19h4.45v2.41h-4.45zM200.80 14.19h4.45v2.41h-4.45zM184.40 16.25h2.40v2.41h-2.40zM206.95 16.25h2.40v2.41h-2.40zM184.40 18.31h2.40v2.41h-2.40zM206.95 18.31h2.40v2.41h-2.40zM184.40 20.38h2.40v2.41h-2.40zM209.00 20.38h2.40v2.41h-2.40zM184.40 22.44h2.40v2.41h-2.40zM206.95 22.44h4.45v2.41h-4.45zM184.40 24.50h24.95v2.41h-24.95zM184.40 26.56h6.50v2.41h-6.50zM200.80 26.56h8.55v2.41h-8.55zM186.45 28.62h4.45v2.41h-4.45zM198.75 28.62h2.40v2.41h-2.40zM206.95 28.62h2.40v2.41h-2.40zM190.55 30.69h2.40v2.41h-2.40zM200.80 30.69h2.40v2.41h-2.40zM204.90 30.69h2.40v2.41h-2.40zM200.80 32.75h2.40v2.41h-2.40z"/>
<path fill="#550000" d="M192.60 14.19h8.55v2.41h-8.55zM186.45 16.25h2.40v2.41h-2.40zM204.90 16.25h2.40v2.41h-2.40zM186.45 18.31h2.40v2.41h-2.40zM204.90 18.31h2.40v2.41h-2.40zM186.45 20.38h2.40v2.41h-2.40zM200.80 20.38h8.55v2.41h-8.55zM186.45 22.44h20.85v2.41h-20.85zM202.85 30.69h2.40v2.41h-2.40z"/>
<path fill="#660000" d="M188.50 16.25h2.40v2.41h-2.40zM202.85 16.25h2.40v2.41h-2.40zM188.50 18.31h2.40v2.41h-2.40zM200.80 18.31h4.45v2.41h-4.45zM188.50 20.38h12.65v2.41h-12.65z"/>
<path fill="#770000" d="M190.55 16.25h2.40v2.41h-2.40zM200.80 16.25h2.40v2.41h-2.40zM190.55 18.31h10.60v2.41h-10.60z"/>
<path fill="#880000" d="M192.60 16.25h2.40v2.41h-2.40zM192.60 30.69h8.55v2.41h-8.55zM190.55 32.75h2.40v2.41h-2.40z"/>
<path fill="#990000" d="M194.65 16.25h6.50v2.41h-6.50zM200.80 28.62h2.40v2.41h-2.40z"/>
<path fill="#ff0000" d="M202.85 28.62h2.40v2.41h-2.40z"/>
<path fill="#aa0000" d="M204.90 28.62h2.40v2.41h-2.40z"/>
<path fill="#ffdd00" d="M192.60 32.75h8.55v2.41h-8.55z"/>
</g></g>
<rect x="218.50" y="8.0" width="41.0" height="33.0" fill="#000"/>
<clipPath id="ic5"><rect x="218.50" y="8.0" width="41.0" height="33.0"/></clipPath><g clip-path="url(#ic5)"><g filter="url(#bl)">
<path fill="#220000" d="M218.50 8.00h41.00v2.41h-41.00zM218.50 10.06h41.00v2.41h-41.00zM218.50 12.12h12.65v2.41h-12.65zM247.20 12.12h12.30v2.41h-12.30zM218.50 14.19h8.55v2.41h-8.55zM251.30 14.19h8.20v2.41h-8.20zM218.50 16.25h6.50v2.41h-6.50zM253.35 16.25h6.15v2.41h-6.15zM218.50 18.31h4.45v2.41h-4.45zM255.40 18.31h4.10v2.41h-4.10zM218.50 20.38h4.45v2.41h-4.45zM255.40 20.38h4.10v2.41h-4.10zM218.50 22.44h6.50v2.41h-6.50zM255.40 22.44h4.10v2.41h-4.10zM218.50 24.50h6.50v2.41h-6.50zM255.40 24.50h4.10v2.41h-4.10zM218.50 26.56h6.50v2.41h-6.50zM253.35 26.56h6.15v2.41h-6.15zM218.50 28.62h8.55v2.41h-8.55zM253.35 28.62h6.15v2.41h-6.15zM218.50 30.69h10.60v2.41h-10.60zM251.30 30.69h8.20v2.41h-8.20zM218.50 32.75h12.65v2.41h-12.65zM249.25 32.75h10.25v2.41h-10.25zM218.50 34.81h16.75v2.41h-16.75zM243.10 34.81h16.40v2.41h-16.40zM218.50 36.88h41.00v2.41h-41.00zM218.50 38.94h41.00v2.06h-41.00z"/>
<path fill="#330000" d="M230.80 12.12h16.75v2.41h-16.75zM226.70 14.19h4.45v2.41h-4.45zM247.20 14.19h4.45v2.41h-4.45zM224.65 16.25h4.45v2.41h-4.45zM249.25 16.25h4.45v2.41h-4.45zM222.60 18.31h6.50v2.41h-6.50zM251.30 18.31h4.45v2.41h-4.45zM222.60 20.38h4.45v2.41h-4.45zM251.30 20.38h4.45v2.41h-4.45zM224.65 22.44h2.40v2.41h-2.40zM251.30 22.44h4.45v2.41h-4.45zM224.65 24.50h2.40v2.41h-2.40zM230.80 24.50h16.75v2.41h-16.75zM251.30 24.50h4.45v2.41h-4.45zM224.65 26.56h4.45v2.41h-4.45zM230.80 26.56h16.75v2.41h-16.75zM251.30 26.56h2.40v2.41h-2.40zM226.70 28.62h14.70v2.41h-14.70zM251.30 28.62h2.40v2.41h-2.40zM228.75 30.69h4.45v2.41h-4.45zM249.25 30.69h2.40v2.41h-2.40zM230.80 32.75h2.40v2.41h-2.40zM245.15 32.75h4.45v2.41h-4.45zM234.90 34.81h8.55v2.41h-8.55z"/>
<path fill="#440000" d="M230.80 14.19h4.45v2.41h-4.45zM243.10 14.19h4.45v2.41h-4.45zM228.75 16.25h2.40v2.41h-2.40zM247.20 16.25h2.40v2.41h-2.40zM228.75 18.31h2.40v2.41h-2.40zM247.20 18.31h4.45v2.41h-4.45zM226.70 20.38h24.95v2.41h-24.95zM226.70 22.44h24.95v2.41h-24.95zM226.70 24.50h4.45v2.41h-4.45zM247.20 24.50h4.45v2.41h-4.45zM228.75 26.56h2.40v2.41h-2.40zM247.20 26.56h4.45v2.41h-4.45zM241.05 28.62h2.40v2.41h-2.40zM249.25 28.62h2.40v2.41h-2.40zM247.20 30.69h2.40v2.41h-2.40zM243.10 32.75h2.40v2.41h-2.40z"/>
<path fill="#550000" d="M234.90 14.19h8.55v2.41h-8.55zM230.80 16.25h2.40v2.41h-2.40zM230.80 18.31h16.75v2.41h-16.75zM232.85 30.69h2.40v2.41h-2.40zM243.10 30.69h2.40v2.41h-2.40z"/>
<path fill="#770000" d="M232.85 16.25h2.40v2.41h-2.40zM243.10 16.25h2.40v2.41h-2.40z"/>
<path fill="#880000" d="M234.90 16.25h8.55v2.41h-8.55zM232.85 32.75h2.40v2.41h-2.40z"/>
<path fill="#660000" d="M245.15 16.25h2.40v2.41h-2.40zM245.15 30.69h2.40v2.41h-2.40z"/>
<path fill="#bb0000" d="M243.10 28.62h2.40v2.41h-2.40z"/>
<path fill="#ff3300" d="M245.15 28.62h2.40v2.41h-2.40z"/>
<path fill="#aa0000" d="M247.20 28.62h2.40v2.41h-2.40zM241.05 30.69h2.40v2.41h-2.40z"/>
<path fill="#990000" d="M234.90 30.69h6.50v2.41h-6.50z"/>
<path fill="#ffff80" d="M234.90 32.75h8.55v2.41h-8.55z"/>
</g></g>
<rect x="260.80" y="8.0" width="41.0" height="33.0" fill="#000"/>
<clipPath id="ic6"><rect x="260.80" y="8.0" width="41.0" height="33.0"/></clipPath><g clip-path="url(#ic6)"><g filter="url(#bl)">
<path fill="#220000" d="M260.80 8.00h41.00v2.41h-41.00zM260.80 10.06h41.00v2.41h-41.00zM260.80 12.12h41.00v2.41h-41.00zM260.80 14.19h12.65v2.41h-12.65zM287.45 14.19h14.35v2.41h-14.35zM260.80 16.25h10.60v2.41h-10.60zM289.50 16.25h12.30v2.41h-12.30zM260.80 18.31h10.60v2.41h-10.60zM277.20 18.31h8.55v2.41h-8.55zM291.55 18.31h10.25v2.41h-10.25zM260.80 20.38h8.55v2.41h-8.55zM275.15 20.38h12.65v2.41h-12.65zM293.60 20.38h8.20v2.41h-8.20zM260.80 22.44h8.55v2.41h-8.55zM273.10 22.44h16.75v2.41h-16.75zM293.60 22.44h8.20v2.41h-8.20zM260.80 24.50h8.55v2.41h-8.55zM273.10 24.50h16.75v2.41h-16.75zM293.60 24.50h8.20v2.41h-8.20zM260.80 26.56h8.55v2.41h-8.55zM275.15 26.56h12.65v2.41h-12.65zM293.60 26.56h8.20v2.41h-8.20zM260.80 28.62h10.60v2.41h-10.60zM277.20 28.62h8.55v2.41h-8.55zM293.60 28.62h8.20v2.41h-8.20zM260.80 30.69h12.65v2.41h-12.65zM291.55 30.69h10.25v2.41h-10.25zM260.80 32.75h12.65v2.41h-12.65zM287.45 32.75h14.35v2.41h-14.35zM260.80 34.81h41.00v2.41h-41.00zM260.80 36.88h41.00v2.41h-41.00zM260.80 38.94h41.00v2.06h-41.00z"/>
<path fill="#330000" d="M273.10 14.19h4.45v2.41h-4.45zM285.40 14.19h2.40v2.41h-2.40zM271.05 16.25h2.40v2.41h-2.40zM275.15 18.31h2.40v2.41h-2.40zM285.40 18.31h2.40v2.41h-2.40zM269.00 20.38h2.40v2.41h-2.40zM273.10 20.38h2.40v2.41h-2.40zM287.45 20.38h2.40v2.41h-2.40zM291.55 20.38h2.40v2.41h-2.40zM269.00 22.44h2.40v2.41h-2.40zM291.55 22.44h2.40v2.41h-2.40zM269.00 24.50h2.40v2.41h-2.40zM291.55 24.50h2.40v2.41h-2.40zM269.00 26.56h2.40v2.41h-2.40zM273.10 26.56h2.40v2.41h-2.40zM287.45 26.56h2.40v2.41h-2.40zM291.55 26.56h2.40v2.41h-2.40zM275.15 28.62h2.40v2.41h-2.40zM285.40 28.62h2.40v2.41h-2.40zM291.55 28.62h2.40v2.41h-2.40zM273.10 32.75h2.40v2.41h-2.40zM285.40 32.75h2.40v2.41h-2.40z"/>
<path fill="#440000" d="M277.20 14.19h2.40v2.41h-2.40zM283.35 14.19h2.40v2.41h-2.40zM287.45 16.25h2.40v2.41h-2.40zM271.05 18.31h2.40v2.41h-2.40zM289.50 18.31h2.40v2.41h-2.40zM271.05 28.62h2.40v2.41h-2.40zM273.10 30.69h2.40v2.41h-2.40z"/>
<path fill="#550000" d="M279.25 14.19h4.45v2.41h-4.45zM273.10 16.25h2.40v2.41h-2.40zM273.10 18.31h2.40v2.41h-2.40zM287.45 18.31h2.40v2.41h-2.40zM271.05 20.38h2.40v2.41h-2.40zM289.50 20.38h2.40v2.41h-2.40zM271.05 22.44h2.40v2.41h-2.40zM289.50 22.44h2.40v2.41h-2.40zM271.05 24.50h2.40v2.41h-2.40zM289.50 24.50h2.40v2.41h-2.40zM271.05 26.56h2.40v2.41h-2.40zM289.50 26.56h2.40v2.41h-2.40zM273.10 28.62h2.40v2.41h-2.40zM285.40 30.69h2.40v2.41h-2.40z"/>
<path fill="#770000" d="M275.15 16.25h2.40v2.41h-2.40zM279.25 16.25h2.40v2.41h-2.40zM287.45 30.69h4.45v2.41h-4.45z"/>
<path fill="#880000" d="M277.20 16.25h2.40v2.41h-2.40z"/>
<path fill="#660000" d="M281.30 16.25h6.50v2.41h-6.50z"/>
<path fill="#dd0000" d="M287.45 28.62h2.40v2.41h-2.40z"/>
<path fill="#ff2200" d="M289.50 28.62h2.40v2.41h-2.40z"/>
<path fill="#cc0000" d="M275.15 30.69h2.40v2.41h-2.40z"/>
<path fill="#bb0000" d="M277.20 30.69h8.55v2.41h-8.55z"/>
<path fill="#ffff99" d="M275.15 32.75h2.40v2.41h-2.40z"/>
<path fill="#ffffb3" d="M277.20 32.75h2.40v2.41h-2.40zM283.35 32.75h2.40v2.41h-2.40z"/>
<path fill="#ffffcc" d="M279.25 32.75h4.45v2.41h-4.45z"/>
</g></g>
<rect x="303.10" y="8.0" width="41.0" height="33.0" fill="#000"/>
<clipPath id="ic7"><rect x="303.10" y="8.0" width="41.0" height="33.0"/></clipPath><g clip-path="url(#ic7)"><g filter="url(#bl)">
<path fill="#110000" d="M303.10 8.00h41.00v2.41h-41.00zM303.10 10.06h41.00v2.41h-41.00zM303.10 12.12h41.00v2.41h-41.00zM303.10 14.19h41.00v2.41h-41.00zM303.10 16.25h41.00v2.41h-41.00zM303.10 18.31h41.00v2.41h-41.00zM303.10 20.38h41.00v2.41h-41.00zM303.10 22.44h41.00v2.41h-41.00zM303.10 24.50h14.70v2.41h-14.70zM319.50 24.50h10.60v2.41h-10.60zM331.80 24.50h12.30v2.41h-12.30zM303.10 26.56h10.60v2.41h-10.60zM317.45 26.56h26.65v2.41h-26.65zM303.10 28.62h16.75v2.41h-16.75zM327.70 28.62h4.45v2.41h-4.45zM333.85 28.62h10.25v2.41h-10.25zM303.10 30.69h12.65v2.41h-12.65zM317.45 30.69h12.65v2.41h-12.65zM331.80 30.69h12.30v2.41h-12.30zM303.10 32.75h12.65v2.41h-12.65zM317.45 32.75h10.60v2.41h-10.60zM331.80 32.75h12.30v2.41h-12.30zM303.10 36.88h41.00v2.41h-41.00zM303.10 38.94h41.00v2.06h-41.00z"/>
<path fill="#220000" d="M317.45 24.50h2.40v2.41h-2.40zM329.75 24.50h2.40v2.41h-2.40zM313.35 26.56h4.45v2.41h-4.45zM331.80 28.62h2.40v2.41h-2.40zM329.75 30.69h2.40v2.41h-2.40zM315.40 32.75h2.40v2.41h-2.40zM327.70 32.75h4.45v2.41h-4.45z"/>
<path fill="#ffffff" d="M319.50 28.62h8.55v2.41h-8.55z"/>
<path fill="#330000" d="M315.40 30.69h2.40v2.41h-2.40zM303.10 34.81h41.00v2.41h-41.00z"/>
</g></g>
<rect x="345.40" y="8.0" width="41.0" height="33.0" fill="#000"/>
<clipPath id="ic8"><rect x="345.40" y="8.0" width="41.0" height="33.0"/></clipPath><g clip-path="url(#ic8)"><g filter="url(#bl)">
<path fill="#330000" d="M345.40 8.00h12.65v2.41h-12.65zM359.75 8.00h6.50v2.41h-6.50zM367.95 8.00h8.55v2.41h-8.55zM378.20 8.00h2.40v2.41h-2.40zM382.30 8.00h4.10v2.41h-4.10zM347.45 10.06h16.75v2.41h-16.75zM365.90 10.06h6.50v2.41h-6.50zM374.10 10.06h10.60v2.41h-10.60zM347.45 12.12h10.60v2.41h-10.60zM359.75 12.12h2.40v2.41h-2.40zM365.90 12.12h4.45v2.41h-4.45zM374.10 12.12h2.40v2.41h-2.40zM378.20 12.12h2.40v2.41h-2.40zM384.35 12.12h2.05v2.41h-2.05zM345.40 14.19h2.40v2.41h-2.40zM349.50 14.19h6.50v2.41h-6.50zM357.70 14.19h2.40v2.41h-2.40zM361.80 14.19h2.40v2.41h-2.40zM365.90 14.19h6.50v2.41h-6.50zM374.10 14.19h2.40v2.41h-2.40zM378.20 14.19h6.50v2.41h-6.50zM345.40 16.25h6.50v2.41h-6.50zM353.60 16.25h2.40v2.41h-2.40zM357.70 16.25h4.45v2.41h-4.45zM363.85 16.25h2.40v2.41h-2.40zM367.95 16.25h4.45v2.41h-4.45zM380.25 16.25h6.15v2.41h-6.15zM345.40 18.31h6.50v2.41h-6.50zM355.65 18.31h2.40v2.41h-2.40zM361.80 18.31h4.45v2.41h-4.45zM372.05 18.31h12.65v2.41h-12.65zM345.40 20.38h4.45v2.41h-4.45zM351.55 20.38h4.45v2.41h-4.45zM357.70 20.38h10.60v2.41h-10.60zM372.05 20.38h10.60v2.41h-10.60zM384.35 20.38h2.05v2.41h-2.05zM345.40 22.44h12.65v2.41h-12.65zM359.75 22.44h2.40v2.41h-2.40zM363.85 22.44h2.40v2.41h-2.40zM367.95 22.44h6.50v2.41h-6.50zM378.20 22.44h2.40v2.41h-2.40zM382.30 22.44h2.40v2.41h-2.40zM345.40 24.50h6.50v2.41h-6.50zM353.60 24.50h2.40v2.41h-2.40zM359.75 24.50h2.40v2.41h-2.40zM363.85 24.50h2.40v2.41h-2.40zM367.95 24.50h6.50v2.41h-6.50zM376.15 24.50h4.45v2.41h-4.45zM382.30 24.50h4.10v2.41h-4.10zM345.40 26.56h4.45v2.41h-4.45zM353.60 26.56h2.40v2.41h-2.40zM361.80 26.56h2.40v2.41h-2.40zM367.95 26.56h4.45v2.41h-4.45zM376.15 26.56h2.40v2.41h-2.40zM380.25 26.56h6.15v2.41h-6.15zM345.40 28.62h6.50v2.41h-6.50zM365.90 28.62h6.50v2.41h-6.50zM376.15 28.62h4.45v2.41h-4.45zM384.35 28.62h2.05v2.41h-2.05zM345.40 30.69h14.70v2.41h-14.70zM372.05 30.69h2.40v2.41h-2.40zM376.15 30.69h2.40v2.41h-2.40zM380.25 30.69h6.15v2.41h-6.15zM345.40 32.75h6.50v2.41h-6.50zM353.60 32.75h4.45v2.41h-4.45zM359.75 32.75h2.40v2.41h-2.40zM365.90 32.75h18.80v2.41h-18.80zM345.40 34.81h10.60v2.41h-10.60zM357.70 34.81h4.45v2.41h-4.45zM363.85 34.81h16.75v2.41h-16.75zM382.30 34.81h2.40v2.41h-2.40zM345.40 36.88h4.45v2.41h-4.45zM351.55 36.88h10.60v2.41h-10.60zM363.85 36.88h2.40v2.41h-2.40zM367.95 36.88h10.60v2.41h-10.60zM380.25 36.88h6.15v2.41h-6.15zM347.45 38.94h8.55v2.06h-8.55zM357.70 38.94h4.45v2.06h-4.45zM370.00 38.94h6.50v2.06h-6.50zM380.25 38.94h4.45v2.06h-4.45z"/>
<path fill="#220000" d="M357.70 8.00h2.40v2.41h-2.40zM376.15 8.00h2.40v2.41h-2.40zM384.35 10.06h2.05v2.41h-2.05zM357.70 12.12h2.40v2.41h-2.40zM376.15 12.12h2.40v2.41h-2.40zM347.45 14.19h2.40v2.41h-2.40zM355.65 14.19h2.40v2.41h-2.40zM376.15 14.19h2.40v2.41h-2.40zM384.35 14.19h2.05v2.41h-2.05zM355.65 16.25h2.40v2.41h-2.40zM374.10 16.25h2.40v2.41h-2.40zM384.35 18.31h2.05v2.41h-2.05zM382.30 20.38h2.40v2.41h-2.40zM361.80 22.44h2.40v2.41h-2.40zM380.25 22.44h2.40v2.41h-2.40zM351.55 24.50h2.40v2.41h-2.40zM361.80 24.50h2.40v2.41h-2.40zM380.25 24.50h2.40v2.41h-2.40zM351.55 26.56h2.40v2.41h-2.40zM378.20 26.56h2.40v2.41h-2.40zM351.55 28.62h2.40v2.41h-2.40zM378.20 30.69h2.40v2.41h-2.40zM351.55 32.75h2.40v2.41h-2.40zM357.70 32.75h2.40v2.41h-2.40zM384.35 32.75h2.05v2.41h-2.05zM355.65 34.81h2.40v2.41h-2.40zM384.35 34.81h2.05v2.41h-2.05zM349.50 36.88h2.40v2.41h-2.40zM365.90 36.88h2.40v2.41h-2.40zM345.40 38.94h2.40v2.06h-2.40zM355.65 38.94h2.40v2.06h-2.40zM363.85 38.94h4.45v2.06h-4.45zM384.35 38.94h2.05v2.06h-2.05z"/>
<path fill="#440000" d="M365.90 8.00h2.40v2.41h-2.40zM380.25 8.00h2.40v2.41h-2.40zM345.40 10.06h2.40v2.41h-2.40zM363.85 10.06h2.40v2.41h-2.40zM372.05 10.06h2.40v2.41h-2.40zM345.40 12.12h2.40v2.41h-2.40zM361.80 12.12h4.45v2.41h-4.45zM370.00 12.12h4.45v2.41h-4.45zM380.25 12.12h4.45v2.41h-4.45zM359.75 14.19h2.40v2.41h-2.40zM363.85 14.19h2.40v2.41h-2.40zM372.05 14.19h2.40v2.41h-2.40zM351.55 16.25h2.40v2.41h-2.40zM361.80 16.25h2.40v2.41h-2.40zM365.90 16.25h2.40v2.41h-2.40zM372.05 16.25h2.40v2.41h-2.40zM376.15 16.25h4.45v2.41h-4.45zM351.55 18.31h4.45v2.41h-4.45zM357.70 18.31h4.45v2.41h-4.45zM365.90 18.31h6.50v2.41h-6.50zM349.50 20.38h2.40v2.41h-2.40zM355.65 20.38h2.40v2.41h-2.40zM367.95 20.38h4.45v2.41h-4.45zM357.70 22.44h2.40v2.41h-2.40zM365.90 22.44h2.40v2.41h-2.40zM374.10 22.44h4.45v2.41h-4.45zM384.35 22.44h2.05v2.41h-2.05zM355.65 24.50h4.45v2.41h-4.45zM365.90 24.50h2.40v2.41h-2.40zM374.10 24.50h2.40v2.41h-2.40zM349.50 26.56h2.40v2.41h-2.40zM357.70 26.56h4.45v2.41h-4.45zM363.85 26.56h4.45v2.41h-4.45zM372.05 26.56h4.45v2.41h-4.45zM353.60 28.62h12.65v2.41h-12.65zM372.05 28.62h4.45v2.41h-4.45zM380.25 28.62h4.45v2.41h-4.45zM359.75 30.69h12.65v2.41h-12.65zM374.10 30.69h2.40v2.41h-2.40zM361.80 32.75h4.45v2.41h-4.45zM361.80 34.81h2.40v2.41h-2.40zM380.25 34.81h2.40v2.41h-2.40zM361.80 36.88h2.40v2.41h-2.40zM378.20 36.88h2.40v2.41h-2.40zM361.80 38.94h2.40v2.06h-2.40zM367.95 38.94h2.40v2.06h-2.40zM376.15 38.94h4.45v2.06h-4.45z"/>
<path fill="#550000" d="M355.65 26.56h2.40v2.41h-2.40z"/>
</g></g>
<rect x="387.70" y="8.0" width="41.0" height="32.0" fill="#000"/>
<clipPath id="ic9"><rect x="387.70" y="8.0" width="41.0" height="32.0"/></clipPath><g clip-path="url(#ic9)"><g filter="url(#bl)">
<path fill="#110000" d="M387.70 8.00h3.28v3.26h-3.28zM393.56 8.00h3.28v3.26h-3.28zM399.41 8.00h3.28v3.26h-3.28zM414.06 8.00h3.28v3.26h-3.28zM387.70 10.91h3.28v3.26h-3.28zM402.34 10.91h3.28v3.26h-3.28zM422.84 10.91h5.86v3.26h-5.86zM387.70 13.82h3.28v3.26h-3.28zM390.63 16.73h3.28v3.26h-3.28zM390.63 19.64h3.28v3.26h-3.28zM390.63 25.45h3.28v3.26h-3.28zM425.77 25.45h2.93v3.26h-2.93zM422.84 28.36h3.28v3.26h-3.28zM390.63 31.27h3.28v3.26h-3.28zM396.49 31.27h3.28v3.26h-3.28zM422.84 31.27h5.86v3.26h-5.86zM390.63 34.18h3.28v3.26h-3.28zM399.41 34.18h3.28v3.26h-3.28zM416.99 34.18h3.28v3.26h-3.28zM422.84 34.18h5.86v3.26h-5.86zM399.41 37.09h3.28v2.91h-3.28zM411.13 37.09h3.28v2.91h-3.28zM416.99 37.09h3.28v2.91h-3.28z"/>
<path fill="#220000" d="M402.34 8.00h3.28v3.26h-3.28zM408.20 10.91h3.28v3.26h-3.28zM393.56 16.73h3.28v3.26h-3.28zM422.84 19.64h3.28v3.26h-3.28zM419.91 31.27h3.28v3.26h-3.28zM390.63 37.09h3.28v2.91h-3.28zM408.20 37.09h3.28v2.91h-3.28z"/>
<path fill="#330000" d="M411.13 10.91h3.28v3.26h-3.28zM396.49 13.82h3.28v3.26h-3.28zM390.63 22.55h3.28v3.26h-3.28z"/>
<path fill="#aa0000" d="M399.41 13.82h3.28v3.26h-3.28zM396.49 16.73h3.28v3.26h-3.28z"/>
<path fill="#bb0000" d="M402.34 13.82h3.28v3.26h-3.28zM399.41 31.27h3.28v3.26h-3.28z"/>
<path fill="#cc0000" d="M405.27 13.82h3.28v3.26h-3.28zM411.13 13.82h3.28v3.26h-3.28zM393.56 22.55h3.28v3.26h-3.28zM419.91 22.55h3.28v3.26h-3.28z"/>
<path fill="#ee0000" d="M408.20 13.82h3.28v3.26h-3.28z"/>
<path fill="#440000" d="M414.06 13.82h3.28v3.26h-3.28zM422.84 22.55h3.28v3.26h-3.28zM414.06 34.18h3.28v3.26h-3.28z"/>
<path fill="#ff7700" d="M399.41 16.73h3.28v3.26h-3.28zM414.06 19.64h3.28v3.26h-3.28z"/>
<path fill="#ffdd00" d="M402.34 16.73h3.28v3.26h-3.28zM405.27 22.55h3.28v3.26h-3.28z"/>
<path fill="#ffaa00" d="M405.27 16.73h6.21v3.26h-6.21zM414.06 25.45h3.28v3.26h-3.28zM402.34 28.36h3.28v3.26h-3.28zM411.13 28.36h3.28v3.26h-3.28z"/>
<path fill="#ff6600" d="M411.13 16.73h3.28v3.26h-3.28zM396.49 22.55h3.28v3.26h-3.28zM416.99 22.55h3.28v3.26h-3.28zM396.49 25.45h3.28v3.26h-3.28zM416.99 25.45h3.28v3.26h-3.28zM408.20 31.27h6.21v3.26h-6.21z"/>
<path fill="#ff0000" d="M414.06 16.73h3.28v3.26h-3.28zM414.06 31.27h3.28v3.26h-3.28z"/>
<path fill="#770000" d="M393.56 19.64h3.28v3.26h-3.28zM419.91 19.64h3.28v3.26h-3.28z"/>
<path fill="#ff2200" d="M396.49 19.64h3.28v3.26h-3.28zM402.34 31.27h3.28v3.26h-3.28z"/>
<path fill="#ff9900" d="M399.41 19.64h3.28v3.26h-3.28z"/>
<path fill="#ffee00" d="M402.34 19.64h3.28v3.26h-3.28zM408.20 19.64h3.28v3.26h-3.28zM402.34 22.55h3.28v3.26h-3.28zM402.34 25.45h3.28v3.26h-3.28z"/>
<path fill="#ffbb00" d="M405.27 19.64h3.28v3.26h-3.28zM411.13 19.64h3.28v3.26h-3.28zM408.20 22.55h9.14v3.26h-9.14zM411.13 25.45h3.28v3.26h-3.28zM405.27 28.36h3.28v3.26h-3.28z"/>
<path fill="#dd0000" d="M416.99 19.64h3.28v3.26h-3.28zM396.49 28.36h3.28v3.26h-3.28z"/>
<path fill="#ffcc00" d="M399.41 22.55h3.28v3.26h-3.28zM399.41 25.45h3.28v3.26h-3.28zM408.20 28.36h3.28v3.26h-3.28z"/>
<path fill="#990000" d="M393.56 25.45h3.28v3.26h-3.28zM419.91 25.45h3.28v3.26h-3.28zM405.27 34.18h3.28v3.26h-3.28z"/>
<path fill="#ffff4c" d="M405.27 25.45h6.21v3.26h-6.21z"/>
<path fill="#550000" d="M393.56 28.36h3.28v3.26h-3.28zM402.34 34.18h3.28v3.26h-3.28z"/>
<path fill="#ff3300" d="M399.41 28.36h3.28v3.26h-3.28zM416.99 28.36h3.28v3.26h-3.28z"/>
<path fill="#ff8800" d="M414.06 28.36h3.28v3.26h-3.28zM405.27 31.27h3.28v3.26h-3.28z"/>
<path fill="#660000" d="M419.91 28.36h3.28v3.26h-3.28zM416.99 31.27h3.28v3.26h-3.28z"/>
<path fill="#880000" d="M408.20 34.18h6.21v3.26h-6.21z"/>
</g></g>
<rect x="430.00" y="8.0" width="41.0" height="32.0" fill="#000"/>
<clipPath id="ic10"><rect x="430.00" y="8.0" width="41.0" height="32.0"/></clipPath><g clip-path="url(#ic10)"><g filter="url(#bl)">
<path fill="#110000" d="M430.00 8.00h41.00v2.35h-41.00zM430.00 10.00h14.70v2.35h-14.70zM456.65 10.00h14.35v2.35h-14.35zM430.00 12.00h10.60v2.35h-10.60zM460.75 12.00h10.25v2.35h-10.25zM430.00 14.00h6.50v2.35h-6.50zM464.85 14.00h6.15v2.35h-6.15zM430.00 16.00h4.45v2.35h-4.45zM464.85 16.00h6.15v2.35h-6.15zM430.00 18.00h4.45v2.35h-4.45zM466.90 18.00h4.10v2.35h-4.10zM430.00 20.00h2.40v2.35h-2.40zM468.95 20.00h2.05v2.35h-2.05zM430.00 22.00h2.40v2.35h-2.40zM468.95 22.00h2.05v2.35h-2.05zM430.00 24.00h2.40v2.35h-2.40zM468.95 24.00h2.05v2.35h-2.05zM430.00 26.00h2.40v2.35h-2.40zM468.95 26.00h2.05v2.35h-2.05zM430.00 28.00h2.40v2.35h-2.40zM466.90 28.00h4.10v2.35h-4.10zM430.00 30.00h4.45v2.35h-4.45zM466.90 30.00h4.10v2.35h-4.10zM430.00 32.00h6.50v2.35h-6.50zM464.85 32.00h6.15v2.35h-6.15zM430.00 34.00h8.55v2.35h-8.55zM462.80 34.00h8.20v2.35h-8.20zM430.00 36.00h12.65v2.35h-12.65zM458.70 36.00h12.30v2.35h-12.30zM430.00 38.00h41.00v2.00h-41.00z"/>
<path fill="#220000" d="M444.35 10.00h2.40v2.35h-2.40zM452.55 10.00h4.45v2.35h-4.45zM436.15 14.00h2.40v2.35h-2.40zM462.80 14.00h2.40v2.35h-2.40zM434.10 16.00h2.40v2.35h-2.40zM466.90 20.00h2.40v2.35h-2.40zM466.90 22.00h2.40v2.35h-2.40zM466.90 26.00h2.40v2.35h-2.40zM432.05 28.00h2.40v2.35h-2.40zM464.85 30.00h2.40v2.35h-2.40zM460.75 34.00h2.40v2.35h-2.40zM456.65 36.00h2.40v2.35h-2.40z"/>
<path fill="#330000" d="M446.40 10.00h6.50v2.35h-6.50zM440.25 12.00h2.40v2.35h-2.40zM458.70 12.00h2.40v2.35h-2.40zM464.85 18.00h2.40v2.35h-2.40zM432.05 20.00h2.40v2.35h-2.40zM432.05 22.00h2.40v2.35h-2.40zM432.05 24.00h2.40v2.35h-2.40zM466.90 24.00h2.40v2.35h-2.40zM432.05 26.00h2.40v2.35h-2.40zM434.10 30.00h2.40v2.35h-2.40zM462.80 32.00h2.40v2.35h-2.40zM438.20 34.00h2.40v2.35h-2.40zM442.30 36.00h2.40v2.35h-2.40z"/>
<path fill="#550000" d="M442.30 12.00h2.40v2.35h-2.40zM438.20 14.00h2.40v2.35h-2.40zM436.15 16.00h2.40v2.35h-2.40zM464.85 20.00h2.40v2.35h-2.40zM434.10 28.00h2.40v2.35h-2.40zM440.25 34.00h2.40v2.35h-2.40zM446.40 36.00h6.50v2.35h-6.50z"/>
<path fill="#880000" d="M444.35 12.00h2.40v2.35h-2.40zM458.70 14.00h2.40v2.35h-2.40zM434.10 26.00h2.40v2.35h-2.40zM436.15 30.00h2.40v2.35h-2.40zM438.20 32.00h2.40v2.35h-2.40zM456.65 34.00h2.40v2.35h-2.40z"/>
<path fill="#aa0000" d="M446.40 12.00h2.40v2.35h-2.40zM450.50 12.00h2.40v2.35h-2.40zM460.75 16.00h2.40v2.35h-2.40zM434.10 24.00h2.40v2.35h-2.40z"/>
<path fill="#bb0000" d="M448.45 12.00h2.40v2.35h-2.40zM436.15 18.00h2.40v2.35h-2.40zM462.80 28.00h2.40v2.35h-2.40z"/>
<path fill="#990000" d="M452.55 12.00h2.40v2.35h-2.40zM440.25 14.00h2.40v2.35h-2.40zM462.80 18.00h2.40v2.35h-2.40zM434.10 22.00h2.40v2.35h-2.40zM442.30 34.00h2.40v2.35h-2.40z"/>
<path fill="#770000" d="M454.60 12.00h2.40v2.35h-2.40zM434.10 20.00h2.40v2.35h-2.40zM464.85 22.00h2.40v2.35h-2.40zM464.85 24.00h2.40v2.35h-2.40z"/>
<path fill="#440000" d="M456.65 12.00h2.40v2.35h-2.40zM460.75 14.00h2.40v2.35h-2.40zM462.80 16.00h2.40v2.35h-2.40zM434.10 18.00h2.40v2.35h-2.40zM464.85 28.00h2.40v2.35h-2.40zM436.15 32.00h2.40v2.35h-2.40zM458.70 34.00h2.40v2.35h-2.40zM444.35 36.00h2.40v2.35h-2.40zM452.55 36.00h4.45v2.35h-4.45z"/>
<path fill="#ee0000" d="M442.30 14.00h2.40v2.35h-2.40zM458.70 16.00h2.40v2.35h-2.40zM460.75 18.00h2.40v2.35h-2.40zM436.15 20.00h2.40v2.35h-2.40zM462.80 22.00h2.40v2.35h-2.40zM462.80 24.00h2.40v2.35h-2.40zM462.80 26.00h2.40v2.35h-2.40zM438.20 30.00h2.40v2.35h-2.40zM446.40 34.00h8.55v2.35h-8.55z"/>
<path fill="#ff0000" d="M444.35 14.00h2.40v2.35h-2.40zM454.60 14.00h2.40v2.35h-2.40zM440.25 16.00h2.40v2.35h-2.40zM438.20 18.00h2.40v2.35h-2.40zM436.15 22.00h2.40v2.35h-2.40zM436.15 24.00h2.40v2.35h-2.40zM436.15 26.00h2.40v2.35h-2.40zM460.75 28.00h2.40v2.35h-2.40zM442.30 32.00h2.40v2.35h-2.40zM456.65 32.00h2.40v2.35h-2.40z"/>
<path fill="#ff1100" d="M446.40 14.00h8.55v2.35h-8.55zM460.75 20.00h2.40v2.35h-2.40zM438.20 28.00h2.40v2.35h-2.40zM440.25 30.00h2.40v2.35h-2.40zM458.70 30.00h2.40v2.35h-2.40zM454.60 32.00h2.40v2.35h-2.40z"/>
<path fill="#dd0000" d="M456.65 14.00h2.40v2.35h-2.40zM462.80 20.00h2.40v2.35h-2.40zM436.15 28.00h2.40v2.35h-2.40zM460.75 30.00h2.40v2.35h-2.40zM440.25 32.00h2.40v2.35h-2.40zM444.35 34.00h2.40v2.35h-2.40z"/>
<path fill="#cc0000" d="M438.20 16.00h2.40v2.35h-2.40zM458.70 32.00h2.40v2.35h-2.40zM454.60 34.00h2.40v2.35h-2.40z"/>
<path fill="#ff2200" d="M442.30 16.00h4.45v2.35h-4.45zM454.60 16.00h4.45v2.35h-4.45zM440.25 18.00h2.40v2.35h-2.40zM458.70 18.00h2.40v2.35h-2.40zM438.20 20.00h2.40v2.35h-2.40zM438.20 22.00h2.40v2.35h-2.40zM460.75 22.00h2.40v2.35h-2.40zM438.20 24.00h2.40v2.35h-2.40zM460.75 24.00h2.40v2.35h-2.40zM438.20 26.00h2.40v2.35h-2.40zM460.75 26.00h2.40v2.35h-2.40zM458.70 28.00h2.40v2.35h-2.40zM442.30 30.00h2.40v2.35h-2.40zM456.65 30.00h2.40v2.35h-2.40zM444.35 32.00h10.60v2.35h-10.60z"/>
<path fill="#ff3300" d="M446.40 16.00h8.55v2.35h-8.55zM442.30 18.00h2.40v2.35h-2.40zM456.65 18.00h2.40v2.35h-2.40zM440.25 20.00h2.40v2.35h-2.40zM458.70 20.00h2.40v2.35h-2.40zM458.70 22.00h2.40v2.35h-2.40zM458.70 24.00h2.40v2.35h-2.40zM440.25 26.00h2.40v2.35h-2.40zM458.70 26.00h2.40v2.35h-2.40zM440.25 28.00h2.40v2.35h-2.40zM456.65 28.00h2.40v2.35h-2.40zM444.35 30.00h2.40v2.35h-2.40zM454.60 30.00h2.40v2.35h-2.40z"/>
<path fill="#ff4400" d="M444.35 18.00h2.40v2.35h-2.40zM454.60 18.00h2.40v2.35h-2.40zM456.65 20.00h2.40v2.35h-2.40zM440.25 22.00h2.40v2.35h-2.40zM440.25 24.00h2.40v2.35h-2.40zM442.30 28.00h2.40v2.35h-2.40zM446.40 30.00h2.40v2.35h-2.40zM452.55 30.00h2.40v2.35h-2.40z"/>
<path fill="#ffbb00" d="M446.40 18.00h2.40v2.35h-2.40zM442.30 26.00h2.40v2.35h-2.40zM444.35 28.00h2.40v2.35h-2.40z"/>
<path fill="#ffee00" d="M448.45 18.00h4.45v2.35h-4.45zM442.30 22.00h2.40v2.35h-2.40z"/>
<path fill="#ff9900" d="M452.55 18.00h2.40v2.35h-2.40zM454.60 28.00h2.40v2.35h-2.40z"/>
<path fill="#ff7700" d="M442.30 20.00h2.40v2.35h-2.40zM456.65 26.00h2.40v2.35h-2.40z"/>
<path fill="#ffff1a" d="M444.35 20.00h2.40v2.35h-2.40zM454.60 26.00h2.40v2.35h-2.40zM446.40 28.00h2.40v2.35h-2.40zM452.55 28.00h2.40v2.35h-2.40z"/>
<path fill="#ffff4c" d="M446.40 20.00h6.50v2.35h-6.50zM444.35 22.00h2.40v2.35h-2.40zM444.35 24.00h2.40v2.35h-2.40zM452.55 26.00h2.40v2.35h-2.40z"/>
<path fill="#ffff33" d="M452.55 20.00h2.40v2.35h-2.40zM454.60 22.00h2.40v2.35h-2.40zM454.60 24.00h2.40v2.35h-2.40zM444.35 26.00h2.40v2.35h-2.40zM448.45 28.00h4.45v2.35h-4.45z"/>
<path fill="#ffff00" d="M454.60 20.00h2.40v2.35h-2.40zM442.30 24.00h2.40v2.35h-2.40z"/>
<path fill="#ffff80" d="M446.40 22.00h2.40v2.35h-2.40zM450.50 22.00h2.40v2.35h-2.40zM446.40 24.00h2.40v2.35h-2.40zM452.55 24.00h2.40v2.35h-2.40zM448.45 26.00h4.45v2.35h-4.45z"/>
<path fill="#ffff99" d="M448.45 22.00h2.40v2.35h-2.40zM448.45 24.00h4.45v2.35h-4.45z"/>
<path fill="#ffff66" d="M452.55 22.00h2.40v2.35h-2.40zM446.40 26.00h2.40v2.35h-2.40z"/>
<path fill="#ffaa00" d="M456.65 22.00h2.40v2.35h-2.40z"/>
<path fill="#ffcc00" d="M456.65 24.00h2.40v2.35h-2.40z"/>
<path fill="#660000" d="M464.85 26.00h2.40v2.35h-2.40zM462.80 30.00h2.40v2.35h-2.40zM460.75 32.00h2.40v2.35h-2.40z"/>
<path fill="#ff6600" d="M448.45 30.00h2.40v2.35h-2.40z"/>
<path fill="#ff5500" d="M450.50 30.00h2.40v2.35h-2.40z"/>
</g></g>
<rect x="472.30" y="8.0" width="41.0" height="32.0" fill="#000"/>
<clipPath id="ic11"><rect x="472.30" y="8.0" width="41.0" height="32.0"/></clipPath><g clip-path="url(#ic11)"><g filter="url(#bl)">
<path fill="#110000" d="M472.30 8.00h41.00v2.35h-41.00zM472.30 10.00h18.80v2.35h-18.80zM496.90 10.00h16.40v2.35h-16.40zM472.30 12.00h12.65v2.35h-12.65zM503.05 12.00h10.25v2.35h-10.25zM472.30 14.00h8.55v2.35h-8.55zM505.10 14.00h8.20v2.35h-8.20zM472.30 16.00h6.50v2.35h-6.50zM509.20 16.00h4.10v2.35h-4.10zM472.30 18.00h4.45v2.35h-4.45zM509.20 18.00h4.10v2.35h-4.10zM472.30 20.00h4.45v2.35h-4.45zM511.25 20.00h2.05v2.35h-2.05zM472.30 22.00h4.45v2.35h-4.45zM511.25 22.00h2.05v2.35h-2.05zM472.30 24.00h4.45v2.35h-4.45zM511.25 24.00h2.05v2.35h-2.05zM472.30 26.00h4.45v2.35h-4.45zM511.25 26.00h2.05v2.35h-2.05zM472.30 28.00h4.45v2.35h-4.45zM509.20 28.00h4.10v2.35h-4.10zM472.30 30.00h6.50v2.35h-6.50zM509.20 30.00h4.10v2.35h-4.10zM472.30 32.00h6.50v2.35h-6.50zM507.15 32.00h6.15v2.35h-6.15zM472.30 34.00h10.60v2.35h-10.60zM505.10 34.00h8.20v2.35h-8.20zM472.30 36.00h14.70v2.35h-14.70zM501.00 36.00h12.30v2.35h-12.30zM472.30 38.00h41.00v2.00h-41.00z"/>
<path fill="#220000" d="M490.75 10.00h6.50v2.35h-6.50zM501.00 12.00h2.40v2.35h-2.40zM507.15 16.00h2.40v2.35h-2.40zM476.40 18.00h2.40v2.35h-2.40zM509.20 20.00h2.40v2.35h-2.40zM509.20 26.00h2.40v2.35h-2.40zM478.45 32.00h2.40v2.35h-2.40zM503.05 34.00h2.40v2.35h-2.40zM486.65 36.00h2.40v2.35h-2.40zM498.95 36.00h2.40v2.35h-2.40z"/>
<path fill="#330000" d="M484.60 12.00h2.40v2.35h-2.40zM480.50 14.00h2.40v2.35h-2.40zM478.45 16.00h2.40v2.35h-2.40zM509.20 22.00h2.40v2.35h-2.40zM509.20 24.00h2.40v2.35h-2.40zM476.40 28.00h2.40v2.35h-2.40zM507.15 30.00h2.40v2.35h-2.40zM505.10 32.00h2.40v2.35h-2.40zM482.55 34.00h2.40v2.35h-2.40zM488.70 36.00h2.40v2.35h-2.40zM496.90 36.00h2.40v2.35h-2.40z"/>
<path fill="#440000" d="M486.65 12.00h2.40v2.35h-2.40zM498.95 12.00h2.40v2.35h-2.40zM503.05 14.00h2.40v2.35h-2.40zM505.10 16.00h2.40v2.35h-2.40zM507.15 18.00h2.40v2.35h-2.40zM476.40 20.00h2.40v2.35h-2.40zM476.40 22.00h2.40v2.35h-2.40zM476.40 26.00h2.40v2.35h-2.40zM507.15 28.00h2.40v2.35h-2.40zM478.45 30.00h2.40v2.35h-2.40zM480.50 32.00h2.40v2.35h-2.40zM501.00 34.00h2.40v2.35h-2.40zM490.75 36.00h6.50v2.35h-6.50z"/>
<path fill="#660000" d="M488.70 12.00h2.40v2.35h-2.40zM478.45 18.00h2.40v2.35h-2.40zM507.15 20.00h2.40v2.35h-2.40zM505.10 30.00h2.40v2.35h-2.40zM503.05 32.00h2.40v2.35h-2.40z"/>
<path fill="#880000" d="M490.75 12.00h4.45v2.35h-4.45zM507.15 22.00h2.40v2.35h-2.40zM478.45 28.00h2.40v2.35h-2.40z"/>
<path fill="#770000" d="M494.85 12.00h2.40v2.35h-2.40zM501.00 14.00h2.40v2.35h-2.40zM480.50 16.00h2.40v2.35h-2.40zM507.15 26.00h2.40v2.35h-2.40zM498.95 34.00h2.40v2.35h-2.40z"/>
<path fill="#550000" d="M496.90 12.00h2.40v2.35h-2.40zM482.55 14.00h2.40v2.35h-2.40zM476.40 24.00h2.40v2.35h-2.40zM484.60 34.00h2.40v2.35h-2.40z"/>
<path fill="#aa0000" d="M484.60 14.00h2.40v2.35h-2.40zM503.05 16.00h2.40v2.35h-2.40zM478.45 20.00h2.40v2.35h-2.40zM480.50 30.00h2.40v2.35h-2.40zM496.90 34.00h2.40v2.35h-2.40z"/>
<path fill="#ee0000" d="M486.65 14.00h2.40v2.35h-2.40zM496.90 14.00h2.40v2.35h-2.40zM501.00 16.00h2.40v2.35h-2.40zM505.10 20.00h2.40v2.35h-2.40zM505.10 26.00h2.40v2.35h-2.40zM480.50 28.00h2.40v2.35h-2.40zM484.60 32.00h2.40v2.35h-2.40z"/>
<path fill="#ff0000" d="M488.70 14.00h2.40v2.35h-2.40zM494.85 14.00h2.40v2.35h-2.40zM503.05 18.00h2.40v2.35h-2.40zM480.50 20.00h2.40v2.35h-2.40zM505.10 22.00h2.40v2.35h-2.40zM505.10 24.00h2.40v2.35h-2.40zM482.55 30.00h2.40v2.35h-2.40zM498.95 32.00h2.40v2.35h-2.40z"/>
<path fill="#ff1100" d="M490.75 14.00h4.45v2.35h-4.45zM484.60 16.00h2.40v2.35h-2.40zM482.55 18.00h2.40v2.35h-2.40zM480.50 22.00h2.40v2.35h-2.40zM480.50 26.00h2.40v2.35h-2.40zM503.05 28.00h2.40v2.35h-2.40zM501.00 30.00h2.40v2.35h-2.40zM486.65 32.00h2.40v2.35h-2.40zM496.90 32.00h2.40v2.35h-2.40z"/>
<path fill="#cc0000" d="M498.95 14.00h2.40v2.35h-2.40zM478.45 22.00h2.40v2.35h-2.40zM505.10 28.00h2.40v2.35h-2.40zM501.00 32.00h2.40v2.35h-2.40zM488.70 34.00h2.40v2.35h-2.40z"/>
<path fill="#dd0000" d="M482.55 16.00h2.40v2.35h-2.40zM480.50 18.00h2.40v2.35h-2.40zM478.45 24.00h2.40v2.35h-2.40zM503.05 30.00h2.40v2.35h-2.40zM490.75 34.00h6.50v2.35h-6.50z"/>
<path fill="#ff2200" d="M486.65 16.00h4.45v2.35h-4.45zM496.90 16.00h4.45v2.35h-4.45zM484.60 18.00h2.40v2.35h-2.40zM501.00 18.00h2.40v2.35h-2.40zM482.55 20.00h2.40v2.35h-2.40zM503.05 20.00h2.40v2.35h-2.40zM503.05 22.00h2.40v2.35h-2.40zM480.50 24.00h2.40v2.35h-2.40zM503.05 24.00h2.40v2.35h-2.40zM503.05 26.00h2.40v2.35h-2.40zM482.55 28.00h2.40v2.35h-2.40zM501.00 28.00h2.40v2.35h-2.40zM484.60 30.00h2.40v2.35h-2.40zM498.95 30.00h2.40v2.35h-2.40zM488.70 32.00h8.55v2.35h-8.55z"/>
<path fill="#ff3300" d="M490.75 16.00h6.50v2.35h-6.50zM486.65 18.00h2.40v2.35h-2.40zM498.95 18.00h2.40v2.35h-2.40zM484.60 20.00h2.40v2.35h-2.40zM501.00 20.00h2.40v2.35h-2.40zM482.55 22.00h2.40v2.35h-2.40zM501.00 22.00h2.40v2.35h-2.40zM482.55 24.00h2.40v2.35h-2.40zM482.55 26.00h2.40v2.35h-2.40zM501.00 26.00h2.40v2.35h-2.40zM484.60 28.00h2.40v2.35h-2.40zM498.95 28.00h2.40v2.35h-2.40zM486.65 30.00h4.45v2.35h-4.45zM494.85 30.00h4.45v2.35h-4.45z"/>
<path fill="#ff7700" d="M488.70 18.00h2.40v2.35h-2.40zM484.60 22.00h2.40v2.35h-2.40z"/>
<path fill="#ffbb00" d="M490.75 18.00h2.40v2.35h-2.40zM498.95 26.00h2.40v2.35h-2.40z"/>
<path fill="#ffcc00" d="M492.80 18.00h2.40v2.35h-2.40zM486.65 20.00h2.40v2.35h-2.40z"/>
<path fill="#ff9900" d="M494.85 18.00h2.40v2.35h-2.40zM484.60 24.00h2.40v2.35h-2.40z"/>
<path fill="#ff4400" d="M496.90 18.00h2.40v2.35h-2.40zM501.00 24.00h2.40v2.35h-2.40zM484.60 26.00h2.40v2.35h-2.40zM490.75 30.00h4.45v2.35h-4.45z"/>
<path fill="#990000" d="M505.10 18.00h2.40v2.35h-2.40zM507.15 24.00h2.40v2.35h-2.40zM482.55 32.00h2.40v2.35h-2.40zM486.65 34.00h2.40v2.35h-2.40z"/>
<path fill="#ffff33" d="M488.70 20.00h2.40v2.35h-2.40zM494.85 20.00h2.40v2.35h-2.40zM486.65 24.00h2.40v2.35h-2.40zM496.90 26.00h2.40v2.35h-2.40zM492.80 28.00h2.40v2.35h-2.40z"/>
<path fill="#ffff4c" d="M490.75 20.00h4.45v2.35h-4.45zM496.90 22.00h2.40v2.35h-2.40zM496.90 24.00h2.40v2.35h-2.40zM488.70 26.00h2.40v2.35h-2.40z"/>
<path fill="#ffff1a" d="M496.90 20.00h2.40v2.35h-2.40zM486.65 22.00h2.40v2.35h-2.40zM486.65 26.00h2.40v2.35h-2.40zM490.75 28.00h2.40v2.35h-2.40zM494.85 28.00h2.40v2.35h-2.40z"/>
<path fill="#ff6600" d="M498.95 20.00h2.40v2.35h-2.40zM486.65 28.00h2.40v2.35h-2.40z"/>
<path fill="#ffff66" d="M488.70 22.00h2.40v2.35h-2.40zM488.70 24.00h2.40v2.35h-2.40zM490.75 26.00h2.40v2.35h-2.40zM494.85 26.00h2.40v2.35h-2.40z"/>
<path fill="#ffff80" d="M490.75 22.00h2.40v2.35h-2.40zM494.85 22.00h2.40v2.35h-2.40zM494.85 24.00h2.40v2.35h-2.40zM492.80 26.00h2.40v2.35h-2.40z"/>
<path fill="#ffff99" d="M492.80 22.00h2.40v2.35h-2.40zM490.75 24.00h4.45v2.35h-4.45z"/>
<path fill="#ffee00" d="M498.95 22.00h2.40v2.35h-2.40z"/>
<path fill="#ffff00" d="M498.95 24.00h2.40v2.35h-2.40zM488.70 28.00h2.40v2.35h-2.40z"/>
<path fill="#bb0000" d="M478.45 26.00h2.40v2.35h-2.40z"/>
<path fill="#ffaa00" d="M496.90 28.00h2.40v2.35h-2.40z"/>
</g></g>
<text x="7.90" y="16.2" fill="#fff" font-size="8.4" font-weight="bold" style="font-family:'Liberation Sans',Arial,sans-serif">a1</text>
<text x="50.20" y="16.2" fill="#fff" font-size="8.4" font-weight="bold" style="font-family:'Liberation Sans',Arial,sans-serif">a2</text>
<text x="92.50" y="16.2" fill="#fff" font-size="8.4" font-weight="bold" style="font-family:'Liberation Sans',Arial,sans-serif">a3</text>
<text x="134.80" y="16.2" fill="#fff" font-size="8.4" font-weight="bold" style="font-family:'Liberation Sans',Arial,sans-serif">a4</text>
<text x="177.10" y="16.2" fill="#fff" font-size="8.4" font-weight="bold" style="font-family:'Liberation Sans',Arial,sans-serif">a5</text>
<text x="219.40" y="16.2" fill="#fff" font-size="8.4" font-weight="bold" style="font-family:'Liberation Sans',Arial,sans-serif">a6</text>
<text x="261.70" y="16.2" fill="#fff" font-size="8.4" font-weight="bold" style="font-family:'Liberation Sans',Arial,sans-serif">a7</text>
<text x="304.00" y="16.2" fill="#fff" font-size="8.4" font-weight="bold" style="font-family:'Liberation Sans',Arial,sans-serif">a8</text>
<text x="346.30" y="16.2" fill="#fff" font-size="8.4" font-weight="bold" style="font-family:'Liberation Sans',Arial,sans-serif">b</text>
<text x="388.60" y="16.2" fill="#fff" font-size="8.4" font-weight="bold" style="font-family:'Liberation Sans',Arial,sans-serif">c1</text>
<text x="430.90" y="16.2" fill="#fff" font-size="8.4" font-weight="bold" style="font-family:'Liberation Sans',Arial,sans-serif">c2</text>
<text x="473.20" y="16.2" fill="#fff" font-size="8.4" font-weight="bold" style="font-family:'Liberation Sans',Arial,sans-serif">c3</text>
<text x="27.50" y="6.6" fill="#111" font-size="7.2" text-anchor="middle" style="font-family:'Liberation Sans',Arial,sans-serif;stroke:#111;stroke-width:0.16">10 e<tspan dy="-2.5" font-size="5">−</tspan><tspan dy="2.5">/pulse</tspan></text>
<text x="69.80" y="6.6" fill="#111" font-size="7.2" text-anchor="middle" style="font-family:'Liberation Sans',Arial,sans-serif;stroke:#111;stroke-width:0.16">73</text>
<text x="112.10" y="6.6" fill="#111" font-size="7.2" text-anchor="middle" style="font-family:'Liberation Sans',Arial,sans-serif;stroke:#111;stroke-width:0.16">95</text>
<text x="154.40" y="6.6" fill="#111" font-size="7.2" text-anchor="middle" style="font-family:'Liberation Sans',Arial,sans-serif;stroke:#111;stroke-width:0.16">134</text>
<text x="196.70" y="6.6" fill="#111" font-size="7.2" text-anchor="middle" style="font-family:'Liberation Sans',Arial,sans-serif;stroke:#111;stroke-width:0.16">212</text>
<text x="239.00" y="6.6" fill="#111" font-size="7.2" text-anchor="middle" style="font-family:'Liberation Sans',Arial,sans-serif;stroke:#111;stroke-width:0.16">433</text>
<text x="281.30" y="6.6" fill="#111" font-size="7.2" text-anchor="middle" style="font-family:'Liberation Sans',Arial,sans-serif;stroke:#111;stroke-width:0.16">951</text>
<text x="323.60" y="6.6" fill="#111" font-size="7.2" text-anchor="middle" style="font-family:'Liberation Sans',Arial,sans-serif;stroke:#111;stroke-width:0.16">4100</text>
<text x="365.90" y="6.6" fill="#111" font-size="7.2" text-anchor="middle" style="font-family:'Liberation Sans',Arial,sans-serif;stroke:#111;stroke-width:0.16">Dark current</text>
<text x="408.20" y="6.6" fill="#111" font-size="7.2" text-anchor="middle" style="font-family:'Liberation Sans',Arial,sans-serif;stroke:#111;stroke-width:0.16">33 μs</text>
<text x="450.50" y="6.6" fill="#111" font-size="7.2" text-anchor="middle" style="font-family:'Liberation Sans',Arial,sans-serif;stroke:#111;stroke-width:0.16">333 μs</text>
<text x="492.80" y="6.6" fill="#111" font-size="7.2" text-anchor="middle" style="font-family:'Liberation Sans',Arial,sans-serif;stroke:#111;stroke-width:0.16">10 s</text>
<rect x="7.00" y="41.3" width="41.00" height="3.1" fill="url(#hotg)"/>
<rect x="49.30" y="41.3" width="41.00" height="3.1" fill="url(#hotg)"/>
<rect x="91.60" y="41.3" width="41.00" height="3.1" fill="url(#hotg)"/>
<rect x="133.90" y="41.3" width="41.00" height="3.1" fill="url(#hotg)"/>
<rect x="176.20" y="41.3" width="41.00" height="3.1" fill="url(#hotg)"/>
<rect x="218.50" y="41.3" width="41.00" height="3.1" fill="url(#hotg)"/>
<rect x="260.80" y="41.3" width="41.00" height="3.1" fill="url(#hotg)"/>
<rect x="303.10" y="41.3" width="41.00" height="3.1" fill="url(#hotg)"/>
<rect x="345.40" y="41.3" width="41.00" height="3.1" fill="url(#hotg)"/>
<rect x="395" y="41.5" width="111.5" height="2.8" fill="url(#hotg)" stroke="#9a9a9a" stroke-width="0.5"/>
<text x="7.40" y="51.2" fill="#111" font-size="7.2" text-anchor="middle" style="font-family:'Liberation Sans',Arial,sans-serif;stroke:#111;stroke-width:0.16">0</text>
<text x="46.80" y="51.2" fill="#111" font-size="7.2" text-anchor="middle" style="font-family:'Liberation Sans',Arial,sans-serif;stroke:#111;stroke-width:0.16">0.5</text>
<text x="90.00" y="51.2" fill="#111" font-size="7.2" text-anchor="middle" style="font-family:'Liberation Sans',Arial,sans-serif;stroke:#111;stroke-width:0.16">2.2</text>
<text x="132.30" y="51.2" fill="#111" font-size="7.2" text-anchor="middle" style="font-family:'Liberation Sans',Arial,sans-serif;stroke:#111;stroke-width:0.16">2.6</text>
<text x="174.60" y="51.2" fill="#111" font-size="7.2" text-anchor="middle" style="font-family:'Liberation Sans',Arial,sans-serif;stroke:#111;stroke-width:0.16">3.8</text>
<text x="216.90" y="51.2" fill="#111" font-size="7.2" text-anchor="middle" style="font-family:'Liberation Sans',Arial,sans-serif;stroke:#111;stroke-width:0.16">15</text>
<text x="259.20" y="51.2" fill="#111" font-size="7.2" text-anchor="middle" style="font-family:'Liberation Sans',Arial,sans-serif;stroke:#111;stroke-width:0.16">53</text>
<text x="301.50" y="51.2" fill="#111" font-size="7.2" text-anchor="middle" style="font-family:'Liberation Sans',Arial,sans-serif;stroke:#111;stroke-width:0.16">116</text>
<text x="343.80" y="51.2" fill="#111" font-size="7.2" text-anchor="middle" style="font-family:'Liberation Sans',Arial,sans-serif;stroke:#111;stroke-width:0.16">10<tspan dy="-2.3" font-size="4.6">4</tspan></text>
<text x="386.10" y="51.2" fill="#111" font-size="7.2" text-anchor="middle" style="font-family:'Liberation Sans',Arial,sans-serif;stroke:#111;stroke-width:0.16">5</text>
<text x="395.2" y="51.2" fill="#111" font-size="7.2" text-anchor="middle" style="font-family:'Liberation Sans',Arial,sans-serif;stroke:#111;stroke-width:0.16">0</text>
<text x="506.5" y="51.2" fill="#111" font-size="7.2" text-anchor="middle" style="font-family:'Liberation Sans',Arial,sans-serif;stroke:#111;stroke-width:0.16">1</text>
<text x="451.1" y="51.2" fill="#111" font-size="7.45" text-anchor="middle" style="font-family:'Liberation Sans',Arial,sans-serif;stroke:#111;stroke-width:0.16">Normalised intensity</text>
<text x="6.3" y="57.2" fill="#111" font-size="7.3" style="font-family:'Liberation Sans',Arial,sans-serif;stroke:#111;stroke-width:0.16">Counts/pulse</text>
<path d="M24.80 134.90v-2.0M24.80 63.00v2.0M60.42 134.90v-2.0M60.42 63.00v2.0M96.05 134.90v-2.0M96.05 63.00v2.0M131.68 134.90v-2.0M131.68 63.00v2.0M167.30 134.90v-2.0M167.30 63.00v2.0M24.80 134.90h2.0M167.30 134.90h-2.0M24.80 126.91h2.0M167.30 126.91h-2.0M24.80 118.92h2.0M167.30 118.92h-2.0M24.80 110.93h2.0M167.30 110.93h-2.0M24.80 102.94h2.0M167.30 102.94h-2.0M24.80 94.96h2.0M167.30 94.96h-2.0M24.80 86.97h2.0M167.30 86.97h-2.0M24.80 78.98h2.0M167.30 78.98h-2.0M24.80 70.99h2.0M167.30 70.99h-2.0M24.80 63.00h2.0M167.30 63.00h-2.0" stroke="#333" stroke-width="0.7" fill="none"/>
<clipPath id="c1"><rect x="24.80" y="63.00" width="142.50" height="71.90"/></clipPath><g clip-path="url(#c1)">
<polyline points="24.80,121.56 31.93,121.56 39.05,121.56 46.17,121.56 53.30,121.56 60.42,121.56 67.55,121.56 74.67,121.56 81.80,121.56 88.92,121.56 96.05,121.56 103.17,121.56 110.30,121.56 117.42,121.56 124.55,121.56 131.68,121.56 138.80,121.56 145.93,121.56 153.05,121.56 160.18,121.56 167.30,121.56" fill="none" stroke="#d4d8dc" stroke-width="0.85" stroke-linejoin="round"/>
<polyline points="24.80,131.46 31.93,131.46 39.05,131.46 46.17,130.91 53.30,127.71 60.42,122.12 67.55,115.73 74.67,110.93 81.80,107.74 88.92,105.98 96.05,105.50 103.17,105.82 110.30,106.94 117.42,111.73 124.55,116.53 131.68,120.12 138.80,124.91 145.93,127.71 153.05,126.91 160.18,128.51 167.30,129.31" fill="none" stroke="#3c3c3c" stroke-width="0.85" stroke-linejoin="round"/>
<polyline points="24.80,125.31 31.93,125.15 39.05,124.91 46.17,122.92 53.30,116.53 60.42,110.53 67.55,105.74 74.67,102.55 81.80,100.55 88.92,99.91 96.05,99.75 103.17,99.91 110.30,100.55 117.42,102.94 124.55,106.14 131.68,110.13 138.80,119.72 145.93,123.32 153.05,123.72 160.18,124.12 167.30,124.51" fill="none" stroke="#8ed88e" stroke-width="0.85" stroke-linejoin="round"/>
<polyline points="24.80,124.51 31.93,124.35 39.05,124.12 46.17,122.12 53.30,114.93 60.42,108.94 67.55,104.14 74.67,101.35 81.80,100.07 88.92,99.59 96.05,99.59 103.17,99.59 110.30,100.07 117.42,101.35 124.55,104.54 131.68,108.54 138.80,118.92 145.93,122.92 153.05,123.32 160.18,123.72 167.30,123.72" fill="none" stroke="#f3c9a4" stroke-width="0.85" stroke-linejoin="round"/>
<polyline points="24.80,124.12 31.93,123.88 39.05,123.72 46.17,121.72 53.30,113.33 60.42,107.74 67.55,92.16 74.67,95.75 81.80,99.59 88.92,99.59 96.05,99.59 103.17,99.59 110.30,99.59 117.42,90.96 124.55,98.15 131.68,105.34 138.80,118.92 145.93,122.52 153.05,122.92 160.18,123.32 167.30,123.72" fill="none" stroke="#f08a98" stroke-width="0.85" stroke-linejoin="round"/>
<polyline points="24.80,122.92 31.93,122.52 39.05,122.12 46.17,120.52 53.30,110.93 60.42,105.34 67.55,95.35 74.67,97.35 81.80,99.59 88.92,99.59 96.05,99.59 103.17,99.59 110.30,99.59 117.42,95.75 124.55,100.55 131.68,106.94 138.80,119.72 145.93,122.52 153.05,122.92 160.18,123.32 167.30,123.72" fill="none" stroke="#8fe3dc" stroke-width="0.85" stroke-linejoin="round"/>
<polyline points="24.80,122.12 31.93,121.72 39.05,121.32 46.17,119.32 53.30,108.94 60.42,104.14 67.55,102.15 74.67,100.55 81.80,99.59 88.92,99.59 96.05,99.59 103.17,99.59 110.30,99.59 117.42,100.55 124.55,103.74 131.68,107.74 138.80,120.52 145.93,122.52 153.05,122.92 160.18,123.32 167.30,124.12" fill="none" stroke="#6a6fd0" stroke-width="0.85" stroke-linejoin="round"/>
<polyline points="24.80,122.12 31.93,121.72 39.05,121.32 46.17,119.32 53.30,106.94 60.42,103.34 67.55,88.17 74.67,94.16 81.80,99.59 88.92,99.59 96.05,99.59 103.17,99.59 110.30,99.59 117.42,88.56 124.55,93.36 131.68,102.94 138.80,118.92 145.93,121.72 153.05,122.52 160.18,122.92 167.30,123.32" fill="none" stroke="#e070e0" stroke-width="0.85" stroke-linejoin="round"/>
<polyline points="24.80,121.72 31.93,121.32 39.05,120.92 46.17,118.92 53.30,105.74 60.42,102.15 67.55,87.77 74.67,93.76 81.80,99.59 88.92,99.59 96.05,99.59 103.17,99.59 110.30,99.59 117.42,70.19 124.55,94.16 131.68,103.74 138.80,120.12 145.93,121.72 153.05,122.12 160.18,122.52 167.30,122.92" fill="none" stroke="#9a78d8" stroke-width="0.85" stroke-linejoin="round"/>
</g>
<rect x="24.80" y="63.00" width="142.50" height="71.90" fill="none" stroke="#333" stroke-width="1.1"/>
<rect x="139.2" y="65.6" width="25.10" height="54.10" fill="#fff" stroke="#333" stroke-width="0.75"/>
<line x1="140.0" x2="151.3" y1="69.60" y2="69.60" stroke="#3c3c3c" stroke-width="0.75"/>
<text x="152.30" y="71.36" font-size="4.9" fill="#111" style="font-family:'Liberation Sans',Arial,sans-serif">10 e<tspan dy="-2" font-size="4">−</tspan></text>
<line x1="140.0" x2="151.3" y1="75.38" y2="75.38" stroke="#f08a98" stroke-width="0.75"/>
<text x="152.30" y="77.14" font-size="4.9" fill="#111" style="font-family:'Liberation Sans',Arial,sans-serif">73</text>
<line x1="140.0" x2="151.3" y1="81.16" y2="81.16" stroke="#8ed88e" stroke-width="0.75"/>
<text x="152.30" y="82.92" font-size="4.9" fill="#111" style="font-family:'Liberation Sans',Arial,sans-serif">95</text>
<line x1="140.0" x2="151.3" y1="86.94" y2="86.94" stroke="#6a6fd0" stroke-width="0.75"/>
<text x="152.30" y="88.70" font-size="4.9" fill="#111" style="font-family:'Liberation Sans',Arial,sans-serif">134</text>
<line x1="140.0" x2="151.3" y1="92.72" y2="92.72" stroke="#8fe3dc" stroke-width="0.75"/>
<text x="152.30" y="94.48" font-size="4.9" fill="#111" style="font-family:'Liberation Sans',Arial,sans-serif">212</text>
<line x1="140.0" x2="151.3" y1="98.50" y2="98.50" stroke="#e070e0" stroke-width="0.75"/>
<text x="152.30" y="100.26" font-size="4.9" fill="#111" style="font-family:'Liberation Sans',Arial,sans-serif">433</text>
<line x1="140.0" x2="151.3" y1="104.28" y2="104.28" stroke="#f3c9a4" stroke-width="0.75"/>
<text x="152.30" y="106.04" font-size="4.9" fill="#111" style="font-family:'Liberation Sans',Arial,sans-serif">951</text>
<line x1="140.0" x2="151.3" y1="110.06" y2="110.06" stroke="#9a78d8" stroke-width="0.75"/>
<text x="152.30" y="111.82" font-size="4.9" fill="#111" style="font-family:'Liberation Sans',Arial,sans-serif">4100</text>
<line x1="140.0" x2="151.3" y1="115.84" y2="115.84" stroke="#d4d8dc" stroke-width="0.75"/>
<text x="152.30" y="117.60" font-size="4.9" fill="#111" style="font-family:'Liberation Sans',Arial,sans-serif">DC</text>
<text x="27.50" y="74.20" font-size="12" font-weight="bold" fill="#000" style="font-family:'Liberation Sans',Arial,sans-serif">d</text>
<text x="24.80" y="144.80" font-size="7.4" text-anchor="middle" fill="#111" style="font-family:'Liberation Sans',Arial,sans-serif;stroke:#111;stroke-width:0.16">-10</text>
<text x="60.42" y="144.80" font-size="7.4" text-anchor="middle" fill="#111" style="font-family:'Liberation Sans',Arial,sans-serif;stroke:#111;stroke-width:0.16">-5</text>
<text x="96.05" y="144.80" font-size="7.4" text-anchor="middle" fill="#111" style="font-family:'Liberation Sans',Arial,sans-serif;stroke:#111;stroke-width:0.16">0</text>
<text x="131.68" y="144.80" font-size="7.4" text-anchor="middle" fill="#111" style="font-family:'Liberation Sans',Arial,sans-serif;stroke:#111;stroke-width:0.16">5</text>
<text x="167.30" y="144.80" font-size="7.4" text-anchor="middle" fill="#111" style="font-family:'Liberation Sans',Arial,sans-serif;stroke:#111;stroke-width:0.16">10</text>
<text x="21.40" y="137.50" font-size="7.4" text-anchor="end" fill="#111" style="font-family:'Liberation Sans',Arial,sans-serif;stroke:#111;stroke-width:0.16">10<tspan dy="-2.7" font-size="4.6">-4</tspan></text>
<text x="21.40" y="129.51" font-size="7.4" text-anchor="end" fill="#111" style="font-family:'Liberation Sans',Arial,sans-serif;stroke:#111;stroke-width:0.16">10<tspan dy="-2.7" font-size="4.6">-3</tspan></text>
<text x="21.40" y="121.52" font-size="7.4" text-anchor="end" fill="#111" style="font-family:'Liberation Sans',Arial,sans-serif;stroke:#111;stroke-width:0.16">10<tspan dy="-2.7" font-size="4.6">-2</tspan></text>
<text x="21.40" y="113.53" font-size="7.4" text-anchor="end" fill="#111" style="font-family:'Liberation Sans',Arial,sans-serif;stroke:#111;stroke-width:0.16">10<tspan dy="-2.7" font-size="4.6">-1</tspan></text>
<text x="21.40" y="105.54" font-size="7.4" text-anchor="end" fill="#111" style="font-family:'Liberation Sans',Arial,sans-serif;stroke:#111;stroke-width:0.16">10<tspan dy="-2.7" font-size="4.6">0</tspan></text>
<text x="21.40" y="97.56" font-size="7.4" text-anchor="end" fill="#111" style="font-family:'Liberation Sans',Arial,sans-serif;stroke:#111;stroke-width:0.16">10<tspan dy="-2.7" font-size="4.6">1</tspan></text>
<text x="21.40" y="89.57" font-size="7.4" text-anchor="end" fill="#111" style="font-family:'Liberation Sans',Arial,sans-serif;stroke:#111;stroke-width:0.16">10<tspan dy="-2.7" font-size="4.6">2</tspan></text>
<text x="21.40" y="81.58" font-size="7.4" text-anchor="end" fill="#111" style="font-family:'Liberation Sans',Arial,sans-serif;stroke:#111;stroke-width:0.16">10<tspan dy="-2.7" font-size="4.6">3</tspan></text>
<text x="21.40" y="73.59" font-size="7.4" text-anchor="end" fill="#111" style="font-family:'Liberation Sans',Arial,sans-serif;stroke:#111;stroke-width:0.16">10<tspan dy="-2.7" font-size="4.6">4</tspan></text>
<text x="21.40" y="65.60" font-size="7.4" text-anchor="end" fill="#111" style="font-family:'Liberation Sans',Arial,sans-serif;stroke:#111;stroke-width:0.16">10<tspan dy="-2.7" font-size="4.6">5</tspan></text>
<text x="97.35" y="152.80" font-size="7.4" text-anchor="middle" fill="#111" style="font-family:'Liberation Sans',Arial,sans-serif;stroke:#111;stroke-width:0.16">Δy (pixels)</text>
<text transform="translate(6.40 97.50) rotate(-90)" font-size="7.5" text-anchor="middle" fill="#111" style="font-family:'Liberation Sans',Arial,sans-serif;stroke:#111;stroke-width:0.16">Counts/pulse</text>
<path d="M198.80 134.90v-2.0M198.80 63.00v2.0M216.61 134.90v-2.0M216.61 63.00v2.0M234.43 134.90v-2.0M234.43 63.00v2.0M252.24 134.90v-2.0M252.24 63.00v2.0M270.05 134.90v-2.0M270.05 63.00v2.0M287.86 134.90v-2.0M287.86 63.00v2.0M305.68 134.90v-2.0M305.68 63.00v2.0M323.49 134.90v-2.0M323.49 63.00v2.0M341.30 134.90v-2.0M341.30 63.00v2.0M198.80 134.90h2.0M341.30 134.90h-2.0M198.80 110.93h2.0M341.30 110.93h-2.0M198.80 86.97h2.0M341.30 86.97h-2.0M198.80 63.00h2.0M341.30 63.00h-2.0" stroke="#333" stroke-width="0.7" fill="none"/>
<clipPath id="c2"><rect x="198.80" y="63.00" width="142.50" height="71.90"/></clipPath><g clip-path="url(#c2)">
<polyline points="198.80,86.97 216.61,106.62 234.43,119.80 252.24,126.75 270.05,131.07 287.86,134.42 305.68,134.90 323.49,134.90 341.30,134.90" fill="none" stroke="#5a5550" stroke-width="0.85" stroke-linejoin="round"/>
<polyline points="198.80,70.19 216.61,105.18 234.43,119.08 252.24,126.03 270.05,130.83 287.86,134.42 305.68,134.90 323.49,134.90 341.30,134.90" fill="none" stroke="#f0b070" stroke-width="0.85" stroke-linejoin="round"/>
<polyline points="198.80,70.19 216.61,105.18 234.43,119.08 252.24,126.03 270.05,130.83 287.86,134.42 305.68,134.90 323.49,134.90 341.30,134.90" fill="none" stroke="#e05ae0" stroke-width="0.85" stroke-linejoin="round"/>
<polyline points="198.80,70.19 216.61,105.18 234.43,119.08 252.24,126.03 270.05,130.83 287.86,134.42 305.68,134.90 323.49,134.90 341.30,134.90" fill="none" stroke="#a8e8f0" stroke-width="0.85" stroke-linejoin="round"/>
<polyline points="198.80,70.19 216.61,105.18 234.43,119.08 252.24,126.03 270.05,130.83 287.86,134.42 305.68,134.90 323.49,134.90 341.30,134.90" fill="none" stroke="#6a62d0" stroke-width="0.85" stroke-linejoin="round"/>
<polyline points="198.80,70.19 216.61,105.18 234.43,119.08 252.24,126.03 270.05,130.83 287.86,134.42 305.68,134.90 323.49,134.90 341.30,134.90" fill="none" stroke="#8ee08e" stroke-width="0.85" stroke-linejoin="round"/>
<polyline points="198.80,69.71 216.61,104.70 234.43,118.60 252.24,125.55 270.05,130.35 287.86,133.94 305.68,134.42 323.49,134.42 341.30,134.42" fill="none" stroke="#e85a5a" stroke-width="0.85" stroke-linejoin="round"/>
<polyline points="198.80,70.19 216.61,105.18 234.43,119.08 252.24,126.03 270.05,130.83 287.86,134.42 305.68,134.90 323.49,134.90 341.30,134.90" fill="none" stroke="#404040" stroke-width="0.85" stroke-linejoin="round"/>
</g>
<rect x="198.80" y="63.00" width="142.50" height="71.90" fill="none" stroke="#333" stroke-width="1.1"/>
<rect x="292.7" y="66.7" width="44.80" height="61.80" fill="#fff" stroke="#333" stroke-width="0.75"/>
<line x1="293.6" x2="308.3" y1="72.60" y2="72.60" stroke="#404040" stroke-width="0.9"/>
<text x="310.20" y="75.14" font-size="7.05" fill="#111" style="font-family:'Liberation Sans',Arial,sans-serif">33.3 μs</text>
<line x1="293.6" x2="308.3" y1="80.95" y2="80.95" stroke="#e85a5a" stroke-width="0.9"/>
<text x="310.20" y="83.49" font-size="7.05" fill="#111" style="font-family:'Liberation Sans',Arial,sans-serif">333 μs</text>
<line x1="293.6" x2="308.3" y1="89.30" y2="89.30" stroke="#8ee08e" stroke-width="0.9"/>
<text x="310.20" y="91.84" font-size="7.05" fill="#111" style="font-family:'Liberation Sans',Arial,sans-serif">3.33 ms</text>
<line x1="293.6" x2="308.3" y1="97.65" y2="97.65" stroke="#6a62d0" stroke-width="0.9"/>
<text x="310.20" y="100.19" font-size="7.05" fill="#111" style="font-family:'Liberation Sans',Arial,sans-serif">33.3 ms</text>
<line x1="293.6" x2="308.3" y1="106.00" y2="106.00" stroke="#a8e8f0" stroke-width="0.9"/>
<text x="310.20" y="108.54" font-size="7.05" fill="#111" style="font-family:'Liberation Sans',Arial,sans-serif">333 ms</text>
<line x1="293.6" x2="308.3" y1="114.35" y2="114.35" stroke="#e05ae0" stroke-width="0.9"/>
<text x="310.20" y="116.89" font-size="7.05" fill="#111" style="font-family:'Liberation Sans',Arial,sans-serif">3.33 s</text>
<line x1="293.6" x2="308.3" y1="122.70" y2="122.70" stroke="#f0b070" stroke-width="0.9"/>
<text x="310.20" y="125.24" font-size="7.05" fill="#111" style="font-family:'Liberation Sans',Arial,sans-serif">10.0 s</text>
<text x="201.50" y="74.20" font-size="12" font-weight="bold" fill="#000" style="font-family:'Liberation Sans',Arial,sans-serif">e</text>
<text x="198.80" y="144.80" font-size="7.4" text-anchor="middle" fill="#111" style="font-family:'Liberation Sans',Arial,sans-serif;stroke:#111;stroke-width:0.16">1</text>
<text x="216.61" y="144.80" font-size="7.4" text-anchor="middle" fill="#111" style="font-family:'Liberation Sans',Arial,sans-serif;stroke:#111;stroke-width:0.16">2</text>
<text x="234.43" y="144.80" font-size="7.4" text-anchor="middle" fill="#111" style="font-family:'Liberation Sans',Arial,sans-serif;stroke:#111;stroke-width:0.16">3</text>
<text x="252.24" y="144.80" font-size="7.4" text-anchor="middle" fill="#111" style="font-family:'Liberation Sans',Arial,sans-serif;stroke:#111;stroke-width:0.16">4</text>
<text x="270.05" y="144.80" font-size="7.4" text-anchor="middle" fill="#111" style="font-family:'Liberation Sans',Arial,sans-serif;stroke:#111;stroke-width:0.16">5</text>
<text x="287.86" y="144.80" font-size="7.4" text-anchor="middle" fill="#111" style="font-family:'Liberation Sans',Arial,sans-serif;stroke:#111;stroke-width:0.16">6</text>
<text x="305.68" y="144.80" font-size="7.4" text-anchor="middle" fill="#111" style="font-family:'Liberation Sans',Arial,sans-serif;stroke:#111;stroke-width:0.16">7</text>
<text x="323.49" y="144.80" font-size="7.4" text-anchor="middle" fill="#111" style="font-family:'Liberation Sans',Arial,sans-serif;stroke:#111;stroke-width:0.16">8</text>
<text x="341.30" y="144.80" font-size="7.4" text-anchor="middle" fill="#111" style="font-family:'Liberation Sans',Arial,sans-serif;stroke:#111;stroke-width:0.16">9</text>
<text x="195.40" y="137.50" font-size="7.4" text-anchor="end" fill="#111" style="font-family:'Liberation Sans',Arial,sans-serif;stroke:#111;stroke-width:0.16">0</text>
<text x="195.40" y="113.53" font-size="7.4" text-anchor="end" fill="#111" style="font-family:'Liberation Sans',Arial,sans-serif;stroke:#111;stroke-width:0.16">1</text>
<text x="195.40" y="89.57" font-size="7.4" text-anchor="end" fill="#111" style="font-family:'Liberation Sans',Arial,sans-serif;stroke:#111;stroke-width:0.16">2</text>
<text x="195.40" y="65.60" font-size="7.4" text-anchor="end" fill="#111" style="font-family:'Liberation Sans',Arial,sans-serif;stroke:#111;stroke-width:0.16">3</text>
<text x="271.35" y="152.80" font-size="7.4" text-anchor="middle" fill="#111" style="font-family:'Liberation Sans',Arial,sans-serif;stroke:#111;stroke-width:0.16">Radius (pixels)</text>
<text transform="translate(182.50 99.50) rotate(-90)" font-size="7.6" text-anchor="middle" fill="#111" style="font-family:'Liberation Sans',Arial,sans-serif;stroke:#111;stroke-width:0.16">Counts/pulse/pixel</text>
<path d="M372.20 134.90v-2.0M372.20 63.00v2.0M390.01 134.90v-2.0M390.01 63.00v2.0M407.82 134.90v-2.0M407.82 63.00v2.0M425.64 134.90v-2.0M425.64 63.00v2.0M443.45 134.90v-2.0M443.45 63.00v2.0M461.26 134.90v-2.0M461.26 63.00v2.0M479.08 134.90v-2.0M479.08 63.00v2.0M496.89 134.90v-2.0M496.89 63.00v2.0M514.70 134.90v-2.0M514.70 63.00v2.0M372.20 134.90h2.0M514.70 134.90h-2.0M372.20 126.91h2.0M514.70 126.91h-2.0M372.20 118.92h2.0M514.70 118.92h-2.0M372.20 110.93h2.0M514.70 110.93h-2.0M372.20 102.94h2.0M514.70 102.94h-2.0M372.20 94.96h2.0M514.70 94.96h-2.0M372.20 86.97h2.0M514.70 86.97h-2.0M372.20 78.98h2.0M514.70 78.98h-2.0M372.20 70.99h2.0M514.70 70.99h-2.0M372.20 63.00h2.0M514.70 63.00h-2.0" stroke="#333" stroke-width="0.7" fill="none"/>
<clipPath id="c3"><rect x="372.20" y="63.00" width="142.50" height="71.90"/></clipPath><g clip-path="url(#c3)">
<polyline points="372.20,106.14 381.11,108.14 390.01,109.74 398.92,111.09 407.82,112.53 416.73,107.02 425.64,100.79 434.54,97.03 443.45,99.03 452.36,103.34 461.26,108.30 470.17,120.52 479.08,122.92 487.98,124.12 496.89,125.31 505.79,126.51 514.70,127.71" fill="none" stroke="#8ee08e" stroke-width="0.85" stroke-linejoin="round"/>
<polyline points="372.20,106.14 381.11,108.14 390.01,109.74 398.92,111.09 407.82,112.53 416.73,97.03 425.64,92.00 434.54,89.52 443.45,90.80 452.36,94.56 461.26,102.15 470.17,120.52 479.08,122.92 487.98,124.12 496.89,125.31 505.79,126.51 514.70,127.71" fill="none" stroke="#e85a5a" stroke-width="0.85" stroke-linejoin="round"/>
<polyline points="372.20,106.14 381.11,108.14 390.01,109.74 398.92,111.09 407.82,112.53 416.73,89.36 425.64,83.37 434.54,80.97 443.45,82.57 452.36,90.96 461.26,111.73 470.17,120.52 479.08,122.92 487.98,124.12 496.89,125.31 505.79,126.51 514.70,127.71" fill="none" stroke="#404040" stroke-width="0.85" stroke-linejoin="round"/>
<polyline points="372.20,106.14 381.11,108.14 390.01,109.74 398.92,111.09 407.82,112.53 416.73,79.78 425.64,74.98 434.54,73.39 443.45,74.18 452.36,77.38 461.26,83.77 470.17,120.52 479.08,122.92 487.98,124.12 496.89,125.31 505.79,126.51 514.70,127.71" fill="none" stroke="#a8e8f0" stroke-width="0.85" stroke-linejoin="round"/>
<polyline points="372.20,106.14 381.11,108.14 390.01,109.74 398.92,111.09 407.82,112.53 416.73,73.39 425.64,67.79 434.54,65.80 443.45,67.79 452.36,71.79 461.26,78.18 470.17,120.52 479.08,122.92 487.98,124.12 496.89,125.31 505.79,126.51 514.70,127.71" fill="none" stroke="#6a62d0" stroke-width="0.85" stroke-linejoin="round"/>
<polyline points="372.20,106.14 381.11,108.14 390.01,109.74 398.92,111.09 407.82,112.53 416.73,89.36 425.64,83.37 434.54,80.97 443.45,82.17 452.36,88.17 461.26,95.75 470.17,120.52 479.08,122.92 487.98,124.12 496.89,125.31 505.79,126.51 514.70,127.71" fill="none" stroke="#e05ae0" stroke-width="0.85" stroke-linejoin="round"/>
</g>
<rect x="372.20" y="63.00" width="142.50" height="71.90" fill="none" stroke="#333" stroke-width="1.1"/>
<rect x="470.0" y="66.8" width="42.80" height="50.00" fill="#fff" stroke="#333" stroke-width="0.75"/>
<line x1="471.0" x2="485.3" y1="72.20" y2="72.20" stroke="#404040" stroke-width="0.9"/>
<text x="487.10" y="74.58" font-size="6.6" fill="#111" style="font-family:'Liberation Sans',Arial,sans-serif">33.3 μs</text>
<line x1="471.0" x2="485.3" y1="80.30" y2="80.30" stroke="#e85a5a" stroke-width="0.9"/>
<text x="487.10" y="82.68" font-size="6.6" fill="#111" style="font-family:'Liberation Sans',Arial,sans-serif">300 μs</text>
<line x1="471.0" x2="485.3" y1="88.40" y2="88.40" stroke="#8ee08e" stroke-width="0.9"/>
<text x="487.10" y="90.78" font-size="6.6" fill="#111" style="font-family:'Liberation Sans',Arial,sans-serif">3.00 ms</text>
<line x1="471.0" x2="485.3" y1="96.50" y2="96.50" stroke="#6a62d0" stroke-width="0.9"/>
<text x="487.10" y="98.88" font-size="6.6" fill="#111" style="font-family:'Liberation Sans',Arial,sans-serif">30.0 ms</text>
<line x1="471.0" x2="485.3" y1="104.60" y2="104.60" stroke="#a8e8f0" stroke-width="0.9"/>
<text x="487.10" y="106.98" font-size="6.6" fill="#111" style="font-family:'Liberation Sans',Arial,sans-serif">300 ms</text>
<line x1="471.0" x2="485.3" y1="112.70" y2="112.70" stroke="#e05ae0" stroke-width="0.9"/>
<text x="487.10" y="115.08" font-size="6.6" fill="#111" style="font-family:'Liberation Sans',Arial,sans-serif">3.00 s</text>
<text x="374.90" y="74.20" font-size="12" font-weight="bold" fill="#000" style="font-family:'Liberation Sans',Arial,sans-serif">f</text>
<text x="372.20" y="144.80" font-size="7.4" text-anchor="middle" fill="#111" style="font-family:'Liberation Sans',Arial,sans-serif;stroke:#111;stroke-width:0.16">1</text>
<text x="390.01" y="144.80" font-size="7.4" text-anchor="middle" fill="#111" style="font-family:'Liberation Sans',Arial,sans-serif;stroke:#111;stroke-width:0.16">3</text>
<text x="407.82" y="144.80" font-size="7.4" text-anchor="middle" fill="#111" style="font-family:'Liberation Sans',Arial,sans-serif;stroke:#111;stroke-width:0.16">5</text>
<text x="425.64" y="144.80" font-size="7.4" text-anchor="middle" fill="#111" style="font-family:'Liberation Sans',Arial,sans-serif;stroke:#111;stroke-width:0.16">7</text>
<text x="443.45" y="144.80" font-size="7.4" text-anchor="middle" fill="#111" style="font-family:'Liberation Sans',Arial,sans-serif;stroke:#111;stroke-width:0.16">9</text>
<text x="461.26" y="144.80" font-size="7.4" text-anchor="middle" fill="#111" style="font-family:'Liberation Sans',Arial,sans-serif;stroke:#111;stroke-width:0.16">11</text>
<text x="479.08" y="144.80" font-size="7.4" text-anchor="middle" fill="#111" style="font-family:'Liberation Sans',Arial,sans-serif;stroke:#111;stroke-width:0.16">13</text>
<text x="496.89" y="144.80" font-size="7.4" text-anchor="middle" fill="#111" style="font-family:'Liberation Sans',Arial,sans-serif;stroke:#111;stroke-width:0.16">15</text>
<text x="514.70" y="144.80" font-size="7.4" text-anchor="middle" fill="#111" style="font-family:'Liberation Sans',Arial,sans-serif;stroke:#111;stroke-width:0.16">17</text>
<text x="368.80" y="137.50" font-size="7.4" text-anchor="end" fill="#111" style="font-family:'Liberation Sans',Arial,sans-serif;stroke:#111;stroke-width:0.16">10<tspan dy="-2.7" font-size="4.6">-3</tspan></text>
<text x="368.80" y="129.51" font-size="7.4" text-anchor="end" fill="#111" style="font-family:'Liberation Sans',Arial,sans-serif;stroke:#111;stroke-width:0.16">10<tspan dy="-2.7" font-size="4.6">-2</tspan></text>
<text x="368.80" y="121.52" font-size="7.4" text-anchor="end" fill="#111" style="font-family:'Liberation Sans',Arial,sans-serif;stroke:#111;stroke-width:0.16">10<tspan dy="-2.7" font-size="4.6">-1</tspan></text>
<text x="368.80" y="113.53" font-size="7.4" text-anchor="end" fill="#111" style="font-family:'Liberation Sans',Arial,sans-serif;stroke:#111;stroke-width:0.16">10<tspan dy="-2.7" font-size="4.6">0</tspan></text>
<text x="368.80" y="105.54" font-size="7.4" text-anchor="end" fill="#111" style="font-family:'Liberation Sans',Arial,sans-serif;stroke:#111;stroke-width:0.16">10<tspan dy="-2.7" font-size="4.6">1</tspan></text>
<text x="368.80" y="97.56" font-size="7.4" text-anchor="end" fill="#111" style="font-family:'Liberation Sans',Arial,sans-serif;stroke:#111;stroke-width:0.16">10<tspan dy="-2.7" font-size="4.6">2</tspan></text>
<text x="368.80" y="89.57" font-size="7.4" text-anchor="end" fill="#111" style="font-family:'Liberation Sans',Arial,sans-serif;stroke:#111;stroke-width:0.16">10<tspan dy="-2.7" font-size="4.6">3</tspan></text>
<text x="368.80" y="81.58" font-size="7.4" text-anchor="end" fill="#111" style="font-family:'Liberation Sans',Arial,sans-serif;stroke:#111;stroke-width:0.16">10<tspan dy="-2.7" font-size="4.6">4</tspan></text>
<text x="368.80" y="73.59" font-size="7.4" text-anchor="end" fill="#111" style="font-family:'Liberation Sans',Arial,sans-serif;stroke:#111;stroke-width:0.16">10<tspan dy="-2.7" font-size="4.6">5</tspan></text>
<text x="368.80" y="65.60" font-size="7.4" text-anchor="end" fill="#111" style="font-family:'Liberation Sans',Arial,sans-serif;stroke:#111;stroke-width:0.16">10<tspan dy="-2.7" font-size="4.6">6</tspan></text>
<text x="444.75" y="152.80" font-size="7.4" text-anchor="middle" fill="#111" style="font-family:'Liberation Sans',Arial,sans-serif;stroke:#111;stroke-width:0.16">Radius (pixels)</text>
<text transform="translate(353.40 96.30) rotate(-90)" font-size="7.5" text-anchor="middle" fill="#111" style="font-family:'Liberation Sans',Arial,sans-serif;stroke:#111;stroke-width:0.16">Counts/pulse/pixel</text>
<path d="M24.80 229.60v-2.0M24.80 158.70v2.0M60.42 229.60v-2.0M60.42 158.70v2.0M96.05 229.60v-2.0M96.05 158.70v2.0M131.68 229.60v-2.0M131.68 158.70v2.0M167.30 229.60v-2.0M167.30 158.70v2.0M24.80 229.60h2.0M167.30 229.60h-2.0M24.80 197.37h2.0M167.30 197.37h-2.0M24.80 165.15h2.0M167.30 165.15h-2.0" stroke="#333" stroke-width="0.7" fill="none"/>
<clipPath id="c4"><rect x="24.80" y="158.70" width="142.50" height="70.90"/></clipPath><g clip-path="url(#c4)">
<polyline points="24.80,220.44 25.25,219.84 25.69,219.10 26.14,219.13 26.58,219.52 27.03,219.48 27.47,219.33 27.92,219.60 28.36,219.76 28.81,219.17 29.25,218.47 29.70,218.61 30.14,219.20 30.59,219.28 31.03,219.02 31.48,219.09 31.93,219.20 32.37,218.72 32.82,218.14 33.26,218.36 33.71,218.92 34.15,218.53 34.60,216.71 35.04,213.40 35.49,207.46 35.93,197.63 36.38,185.03 36.82,173.28 37.27,166.05 37.71,165.38 38.16,171.59 38.60,182.96 39.05,195.66 39.50,205.85 39.94,212.39 40.39,216.43 40.83,218.86 41.28,219.58 41.72,219.15 42.17,218.90 42.61,219.26 43.06,219.49 43.50,219.39 43.95,219.65 44.39,220.23 44.84,220.21 45.28,219.52 45.73,219.21 46.17,219.68 46.62,220.11 47.07,220.05 47.51,220.12 47.96,220.51 48.40,220.44 48.85,219.77 49.29,219.51 49.74,220.10 50.18,220.65 50.63,220.54 51.07,220.34 51.52,220.46 51.96,220.25 52.41,219.35 52.85,218.48 53.30,217.89 53.75,216.41 54.19,213.07 54.64,208.38 55.08,203.17 55.53,197.50 55.97,191.79 56.42,187.72 56.86,186.56 57.31,187.89 57.75,190.74 58.20,195.05 58.64,200.70 59.09,206.43 59.53,210.98 59.98,214.51 60.42,217.51 60.87,219.51 61.32,219.96 61.76,219.71 62.21,219.92 62.65,220.41 63.10,220.48 63.54,220.38 63.99,220.71 64.43,220.96 64.88,220.35 65.32,219.42 65.77,219.16 66.21,219.36 66.66,219.15 67.10,218.68 67.55,218.71 68.00,219.01 68.44,218.87 68.89,218.60 69.33,219.12 69.78,220.15 70.22,220.60 70.67,220.40 71.11,220.37 71.56,220.53 72.00,220.24 72.45,219.75 72.89,219.97 73.34,220.73 73.78,220.94 74.23,220.44 74.67,220.14 75.12,220.27 75.57,220.17 76.01,219.83 76.46,220.06 76.90,220.78 77.35,220.91 77.79,220.27 78.24,219.85 78.68,220.05 79.13,220.18 79.57,219.99 80.02,220.15 80.46,220.73 80.91,220.76 81.35,219.99 81.80,219.41 82.25,219.49 82.69,219.40 83.14,218.56 83.58,217.55 84.03,216.68 84.47,215.41 84.92,213.76 85.36,212.98 85.81,213.78 86.25,215.24 86.70,216.42 87.14,217.51 87.59,218.75 88.03,219.45 88.48,219.28 88.92,219.19 89.37,219.84 89.82,220.51 90.26,220.38 90.71,219.95 91.15,219.86 91.60,219.60 92.04,218.58 92.49,217.24 92.93,215.90 93.38,213.55 93.82,209.22 94.27,203.60 94.71,198.16 95.16,193.56 95.60,190.22 96.05,189.30 96.50,191.61 96.94,196.07 97.39,200.89 97.83,205.52 98.28,210.14 98.72,214.15 99.17,216.71 99.61,218.17 100.06,219.44 100.50,220.31 100.95,220.15 101.39,219.49 101.84,219.47 102.28,220.02 102.73,220.22 103.17,220.08 103.62,220.26 104.07,220.55 104.51,220.19 104.96,219.50 105.40,219.53 105.85,220.21 106.29,220.52 106.74,220.27 107.18,220.21 107.63,220.39 108.07,220.11 108.52,219.54 108.96,219.63 109.41,220.35 109.85,220.61 110.30,220.11 110.75,219.68 111.19,219.60 111.64,219.23 112.08,218.55 112.53,218.43 112.97,218.93 113.42,219.04 113.86,218.44 114.31,218.06 114.75,218.38 115.20,218.74 115.64,218.81 116.09,219.24 116.53,220.14 116.98,220.54 117.42,220.06 117.87,219.64 118.32,219.94 118.76,220.32 119.21,220.26 119.65,220.30 120.10,220.74 120.54,220.79 120.99,220.01 121.43,219.31 121.88,219.37 122.32,219.49 122.77,218.92 123.21,218.12 123.66,217.61 124.10,216.89 124.55,215.63 125.00,214.75 125.44,215.05 125.89,215.87 126.33,216.30 126.78,216.63 127.22,217.43 127.67,218.22 128.11,218.39 128.56,218.50 129.00,219.21 129.45,219.87 129.89,219.50 130.34,218.47 130.78,217.68 131.23,217.04 131.68,216.02 132.12,215.16 132.57,215.24 133.01,215.79 133.46,215.85 133.90,215.70 134.35,216.26 134.79,217.37 135.24,218.16 135.68,218.72 136.13,219.63 136.57,220.49 137.02,220.35 137.46,219.47 137.91,218.91 138.35,218.70 138.80,217.96 139.25,216.67 139.69,215.64 140.14,214.90 140.58,213.84 141.03,212.83 141.47,213.00 141.92,214.40 142.36,215.87 142.81,216.92 143.25,218.07 143.70,219.27 144.14,219.76 144.59,219.63 145.03,219.91 145.48,220.80 145.93,221.31 146.37,221.04 146.82,220.80 147.26,220.94 147.71,220.83 148.15,220.37 148.60,220.42 149.04,221.17 149.49,221.57 149.93,221.13 150.38,220.68 150.82,220.78 151.27,220.85 151.71,220.59 152.16,220.67 152.60,221.34 153.05,221.66 153.50,221.10 153.94,220.53 154.39,220.67 154.83,220.97 155.28,220.87 155.72,220.89 156.17,221.37 156.61,221.54 157.06,220.83 157.50,220.06 157.95,220.02 158.39,220.12 158.84,219.58 159.28,218.78 159.73,218.26 160.18,217.53 160.62,216.18 161.07,215.06 161.51,215.15 161.96,215.94 162.40,216.51 162.85,217.06 163.29,218.15 163.74,219.34 164.18,219.93 164.63,220.42 165.07,221.58 165.52,222.87 165.96,223.27 166.41,223.00 166.85,222.94 167.30,223.00" fill="none" stroke="#5a3f94" stroke-width="1.05" stroke-linejoin="round"/>
<polyline points="24.80,220.44 25.25,219.84 25.69,219.10 26.14,219.13 26.58,219.52 27.03,219.48 27.47,219.33 27.92,219.60 28.36,219.76 28.81,219.17 29.25,218.47 29.70,218.61 30.14,219.20 30.59,219.28 31.03,219.02 31.48,219.09 31.93,219.20 32.37,218.72 32.82,218.14 33.26,218.36 33.71,218.92 34.15,218.53 34.60,216.71 35.04,213.40 35.49,207.46 35.93,197.63 36.38,185.03 36.82,173.28 37.27,166.05 37.71,165.38 38.16,171.59 38.60,182.96 39.05,195.66 39.50,205.85 39.94,212.39 40.39,216.43 40.83,218.86 41.28,219.58 41.72,219.15 42.17,218.90 42.61,219.26 43.06,219.49 43.50,219.39 43.95,219.65 44.39,220.23 44.84,220.21 45.28,219.52 45.73,219.21 46.17,219.68 46.62,220.11 47.07,220.05 47.51,220.12 47.96,220.51 48.40,220.44 48.85,219.77 49.29,219.51 49.74,220.10 50.18,220.65 50.63,220.54 51.07,220.34 51.52,220.46 51.96,220.25 52.41,219.35 52.85,218.48 53.30,217.89 53.75,216.41 54.19,213.07 54.64,208.38 55.08,203.17 55.53,197.50 55.97,191.79 56.42,187.72 56.86,186.56 57.31,187.89 57.75,190.74 58.20,195.05 58.64,200.70 59.09,206.43 59.53,210.98 59.98,214.51 60.42,217.51 60.87,219.51 61.32,219.96 61.76,219.71 62.21,219.92 62.65,220.41 63.10,220.48 63.54,220.38 63.99,220.71 64.43,220.96 64.88,220.35 65.32,219.42 65.77,219.16 66.21,219.36 66.66,219.15 67.10,218.68 67.55,218.71 68.00,219.01 68.44,218.87 68.89,218.60 69.33,219.12 69.78,220.15 70.22,220.60 70.67,220.40 71.11,220.37 71.56,220.53 72.00,220.24 72.45,219.75 72.89,219.97 73.34,220.73 73.78,220.94 74.23,220.44 74.67,220.14 75.12,220.27 75.57,220.17 76.01,219.83 76.46,220.06 76.90,220.78 77.35,220.91 77.79,220.27 78.24,219.85 78.68,220.05 79.13,220.18 79.57,219.99 80.02,220.15 80.46,220.73 80.91,220.76 81.35,219.99 81.80,219.41 82.25,219.49 82.69,219.40 83.14,218.56 83.58,217.55 84.03,216.68 84.47,215.41 84.92,213.76 85.36,212.98 85.81,213.78 86.25,215.24 86.70,216.42 87.14,217.51 87.59,218.75 88.03,219.45 88.48,219.28 88.92,219.19 89.37,219.84 89.82,220.51 90.26,220.38 90.71,219.95 91.15,219.86 91.60,219.60 92.04,218.58 92.49,217.24 92.93,215.90 93.38,213.55 93.82,209.22 94.27,203.60 94.71,198.16 95.16,193.56 95.60,190.22 96.05,189.30 96.50,191.61 96.94,196.07 97.39,200.89 97.83,205.52 98.28,210.14 98.72,214.15 99.17,216.71 99.61,218.17 100.06,219.44 100.50,220.31 100.95,220.15 101.39,219.49 101.84,219.47 102.28,220.02 102.73,220.22 103.17,220.08 103.62,220.26 104.07,220.55 104.51,220.19 104.96,219.50 105.40,219.53 105.85,220.21 106.29,220.52 106.74,220.27 107.18,220.21 107.63,220.39 108.07,220.11 108.52,219.54 108.96,219.63 109.41,220.35 109.85,220.61 110.30,220.11 110.75,219.68 111.19,219.60 111.64,219.23 112.08,218.55 112.53,218.43 112.97,218.93 113.42,219.04 113.86,218.44 114.31,218.06 114.75,218.38 115.20,218.74 115.64,218.81 116.09,219.24 116.53,220.14 116.98,220.54 117.42,220.06 117.87,219.64 118.32,219.94 118.76,220.32 119.21,220.26 119.65,220.30 120.10,220.74 120.54,220.79 120.99,220.01 121.43,219.31 121.88,219.37 122.32,219.49 122.77,218.92 123.21,218.12 123.66,217.61 124.10,216.89 124.55,215.63 125.00,214.75 125.44,215.05 125.89,215.87 126.33,216.30 126.78,216.63 127.22,217.43 127.67,218.22 128.11,218.39 128.56,218.50 129.00,219.21 129.45,219.87 129.89,219.50 130.34,218.47 130.78,217.68 131.23,217.04 131.68,216.02 132.12,215.16 132.57,215.24 133.01,215.79 133.46,215.85 133.90,215.70 134.35,216.26 134.79,217.37 135.24,218.16 135.68,218.72 136.13,219.63 136.57,220.49 137.02,220.35 137.46,219.47 137.91,218.91 138.35,218.70 138.80,217.96 139.25,216.67 139.69,215.64 140.14,214.90 140.58,213.84 141.03,212.83 141.47,213.00 141.92,214.40 142.36,215.87 142.81,216.92 143.25,218.07 143.70,219.27 144.14,219.76 144.59,219.63 145.03,219.91 145.48,220.80 145.93,221.31 146.37,221.04 146.82,220.80 147.26,220.94 147.71,220.83 148.15,220.37 148.60,220.42 149.04,221.17 149.49,221.57 149.93,221.13 150.38,220.68 150.82,220.78 151.27,220.85 151.71,220.59 152.16,220.67 152.60,221.34 153.05,221.66 153.50,221.10 153.94,220.53 154.39,220.67 154.83,220.97 155.28,220.87 155.72,220.89 156.17,221.37 156.61,221.54 157.06,220.83 157.50,220.06 157.95,220.02 158.39,220.12 158.84,219.58 159.28,218.78 159.73,218.26 160.18,217.53 160.62,216.18 161.07,215.06 161.51,215.15 161.96,215.94 162.40,216.51 162.85,217.06 163.29,218.15 163.74,219.34 164.18,219.93 164.63,220.42 165.07,221.58 165.52,222.87 165.96,223.27 166.41,223.00 166.85,222.94 167.30,223.00" fill="none" stroke="#a486e6" stroke-width="0.6" stroke-linejoin="round"/>
</g>
<rect x="24.80" y="158.70" width="142.50" height="70.90" fill="none" stroke="#333" stroke-width="1.1"/>
<rect x="102.2" y="162.2" width="61.60" height="31.20" fill="#fff" stroke="#333" stroke-width="0.75"/>
<line x1="102.9" x2="116.5" y1="167.30" y2="167.30" stroke="#404040" stroke-width="0.9"/>
<text x="118.2" y="169.50" font-size="6.2" fill="#111" style="font-family:'Liberation Sans',Arial,sans-serif">10 e<tspan dy="-2.2" font-size="4.4">−</tspan></text>
<line x1="102.9" x2="116.5" y1="174.33" y2="174.33" stroke="#f08a98" stroke-width="0.9"/>
<text x="118.2" y="176.53" font-size="6.2" fill="#111" style="font-family:'Liberation Sans',Arial,sans-serif">73</text>
<line x1="102.9" x2="116.5" y1="181.36" y2="181.36" stroke="#8ed88e" stroke-width="0.9"/>
<text x="118.2" y="183.56" font-size="6.2" fill="#111" style="font-family:'Liberation Sans',Arial,sans-serif">95</text>
<line x1="102.9" x2="116.5" y1="188.39" y2="188.39" stroke="#6a6fd0" stroke-width="0.9"/>
<text x="118.2" y="190.59" font-size="6.2" fill="#111" style="font-family:'Liberation Sans',Arial,sans-serif">134</text>
<line x1="134.4" x2="147.6" y1="167.30" y2="167.30" stroke="#8fe3dc" stroke-width="0.9"/>
<text x="149.3" y="169.50" font-size="6.2" fill="#111" style="font-family:'Liberation Sans',Arial,sans-serif">212</text>
<line x1="134.4" x2="147.6" y1="174.33" y2="174.33" stroke="#e070e0" stroke-width="0.9"/>
<text x="149.3" y="176.53" font-size="6.2" fill="#111" style="font-family:'Liberation Sans',Arial,sans-serif">433</text>
<line x1="134.4" x2="147.6" y1="181.36" y2="181.36" stroke="#f3c9a4" stroke-width="0.9"/>
<text x="149.3" y="183.56" font-size="6.2" fill="#111" style="font-family:'Liberation Sans',Arial,sans-serif">951</text>
<line x1="134.4" x2="147.6" y1="188.39" y2="188.39" stroke="#9a78d8" stroke-width="0.9"/>
<text x="149.3" y="190.59" font-size="6.2" fill="#111" style="font-family:'Liberation Sans',Arial,sans-serif">4100</text>
<text x="27.50" y="169.90" font-size="12" font-weight="bold" fill="#000" style="font-family:'Liberation Sans',Arial,sans-serif">g</text>
<text transform="translate(46.80 174.00) rotate(-90)" font-size="8.6" text-anchor="middle" fill="#111" style="font-family:'Liberation Sans',Arial,sans-serif;stroke:#111;stroke-width:0.16">(200)</text>
<text transform="translate(67.00 194.50) rotate(-90)" font-size="8.6" text-anchor="middle" fill="#111" style="font-family:'Liberation Sans',Arial,sans-serif;stroke:#111;stroke-width:0.16">(220)</text>
<text transform="translate(87.20 203.00) rotate(-90)" font-size="8.6" text-anchor="middle" fill="#111" style="font-family:'Liberation Sans',Arial,sans-serif;stroke:#111;stroke-width:0.16">(400)</text>
<text transform="translate(98.20 179.00) rotate(-90)" font-size="8.6" text-anchor="middle" fill="#111" style="font-family:'Liberation Sans',Arial,sans-serif;stroke:#111;stroke-width:0.16">(420)</text>
<text x="24.80" y="239.50" font-size="7.4" text-anchor="middle" fill="#111" style="font-family:'Liberation Sans',Arial,sans-serif;stroke:#111;stroke-width:0.16">40</text>
<text x="60.42" y="239.50" font-size="7.4" text-anchor="middle" fill="#111" style="font-family:'Liberation Sans',Arial,sans-serif;stroke:#111;stroke-width:0.16">80</text>
<text x="96.05" y="239.50" font-size="7.4" text-anchor="middle" fill="#111" style="font-family:'Liberation Sans',Arial,sans-serif;stroke:#111;stroke-width:0.16">120</text>
<text x="131.68" y="239.50" font-size="7.4" text-anchor="middle" fill="#111" style="font-family:'Liberation Sans',Arial,sans-serif;stroke:#111;stroke-width:0.16">160</text>
<text x="167.30" y="239.50" font-size="7.4" text-anchor="middle" fill="#111" style="font-family:'Liberation Sans',Arial,sans-serif;stroke:#111;stroke-width:0.16">200</text>
<text x="21.40" y="232.20" font-size="7.4" text-anchor="end" fill="#111" style="font-family:'Liberation Sans',Arial,sans-serif;stroke:#111;stroke-width:0.16">0.0</text>
<text x="21.40" y="199.97" font-size="7.4" text-anchor="end" fill="#111" style="font-family:'Liberation Sans',Arial,sans-serif;stroke:#111;stroke-width:0.16">0.5</text>
<text x="21.40" y="167.75" font-size="7.4" text-anchor="end" fill="#111" style="font-family:'Liberation Sans',Arial,sans-serif;stroke:#111;stroke-width:0.16">1.0</text>
<text x="97.35" y="247.50" font-size="7.4" text-anchor="middle" fill="#111" style="font-family:'Liberation Sans',Arial,sans-serif;stroke:#111;stroke-width:0.16">Radius (pixels)</text>
<text transform="translate(6.20 196.20) rotate(-90)" font-size="6.65" text-anchor="middle" fill="#111" style="font-family:'Liberation Sans',Arial,sans-serif;stroke:#111;stroke-width:0.16">Normalised counts</text>
<path d="M198.80 229.60v-2.0M198.80 158.70v2.0M227.30 229.60v-2.0M227.30 158.70v2.0M255.80 229.60v-2.0M255.80 158.70v2.0M284.30 229.60v-2.0M284.30 158.70v2.0M312.80 229.60v-2.0M312.80 158.70v2.0M341.30 229.60v-2.0M341.30 158.70v2.0M198.80 229.60h2.0M341.30 229.60h-2.0M198.80 194.15h2.0M341.30 194.15h-2.0M198.80 158.70h2.0M341.30 158.70h-2.0" stroke="#333" stroke-width="0.7" fill="none"/>
<clipPath id="c5"><rect x="198.80" y="158.70" width="142.50" height="70.90"/></clipPath><g clip-path="url(#c5)">
<polyline points="198.80,216.00 201.65,217.96 204.50,212.29 207.35,221.69 210.20,213.59 213.05,217.30 215.90,222.56 218.75,199.03 221.60,219.25 224.45,214.75 227.30,216.95 230.15,193.91 233.00,175.58 235.85,172.50 238.70,172.56 241.55,172.28 244.40,173.07 247.25,187.62 250.10,212.79 252.95,220.63 255.80,210.51 258.65,224.60 261.50,217.17 264.35,221.85 267.20,219.95 270.05,223.80 272.90,216.32 275.75,215.88 278.60,223.08 281.45,220.31 284.30,217.89 287.15,220.91 290.00,218.92 292.85,222.49 295.70,217.50 298.55,210.43 301.40,200.02 304.25,211.78 307.10,218.48 309.95,218.49 312.80,223.50 315.65,225.24 318.50,213.96 321.35,217.17 324.20,225.87 327.05,222.13 329.90,222.69 332.75,218.72 335.60,220.37 338.45,225.38 341.30,217.52" fill="none" stroke="#8ee08e" stroke-width="0.9" stroke-linejoin="round"/>
<polyline points="198.80,218.46 201.65,217.19 204.50,215.74 207.35,218.32 210.20,216.88 213.05,218.80 215.90,216.12 218.75,215.71 221.60,216.53 224.45,215.24 227.30,216.34 230.15,202.40 233.00,190.86 235.85,187.81 238.70,188.42 241.55,188.72 244.40,192.03 247.25,201.82 250.10,216.72 252.95,223.17 255.80,220.45 258.65,220.68 261.50,219.21 264.35,219.94 267.20,222.22 270.05,221.79 272.90,220.59 275.75,223.34 278.60,221.47 281.45,222.72 284.30,222.93 287.15,223.18 290.00,220.16 292.85,221.59 295.70,217.72 298.55,213.49 301.40,210.93 304.25,217.40 307.10,219.45 309.95,221.09 312.80,222.55 315.65,222.82 318.50,222.63 321.35,225.12 324.20,224.54 327.05,224.78 329.90,222.54 332.75,222.23 335.60,225.66 338.45,225.55 341.30,225.32" fill="none" stroke="#6a62d0" stroke-width="0.9" stroke-linejoin="round"/>
<polyline points="198.80,216.55 201.65,215.48 204.50,215.04 207.35,216.43 210.20,217.53 213.05,215.76 215.90,215.98 218.75,215.14 221.60,213.49 224.45,214.61 227.30,213.90 230.15,199.31 233.00,186.16 235.85,185.37 238.70,183.02 241.55,183.15 244.40,184.50 247.25,196.21 250.10,216.48 252.95,220.81 255.80,222.07 258.65,219.81 261.50,222.25 264.35,222.22 267.20,221.62 270.05,221.82 272.90,221.06 275.75,222.29 278.60,222.51 281.45,221.87 284.30,222.08 287.15,220.96 290.00,222.40 292.85,217.34 295.70,214.67 298.55,212.58 301.40,211.55 304.25,214.64 307.10,218.64 309.95,221.99 312.80,222.09 315.65,221.48 318.50,223.72 321.35,223.64 324.20,225.34 327.05,225.27 329.90,224.24 332.75,224.57 335.60,222.17 338.45,225.01 341.30,225.60" fill="none" stroke="#a8e8f0" stroke-width="0.9" stroke-linejoin="round"/>
<polyline points="198.80,213.04 201.65,213.94 204.50,214.75 207.35,213.91 210.20,215.01 213.05,213.94 215.90,212.98 218.75,213.23 221.60,213.58 224.45,214.51 227.30,212.67 230.15,196.44 233.00,181.60 235.85,180.11 238.70,178.37 241.55,178.61 244.40,180.28 247.25,192.87 250.10,213.59 252.95,218.71 255.80,218.81 258.65,218.78 261.50,218.95 264.35,220.04 267.20,219.42 270.05,219.77 272.90,220.46 275.75,220.47 278.60,219.93 281.45,219.97 284.30,219.05 287.15,218.49 290.00,219.57 292.85,216.92 295.70,212.62 298.55,208.17 301.40,208.78 304.25,212.96 307.10,217.46 309.95,220.11 312.80,223.60 315.65,222.71 318.50,222.12 321.35,222.25 324.20,223.01 327.05,222.65 329.90,222.33 332.75,223.85 335.60,222.63 338.45,222.10 341.30,222.37" fill="none" stroke="#e05ae0" stroke-width="0.9" stroke-linejoin="round"/>
<polyline points="198.80,213.47 201.65,214.05 204.50,214.69 207.35,213.39 210.20,214.36 213.05,213.36 215.90,213.00 218.75,214.22 221.60,214.21 224.45,213.05 227.30,211.75 230.15,194.68 233.00,178.75 235.85,176.97 238.70,174.79 241.55,174.84 244.40,176.97 247.25,190.79 250.10,213.12 252.95,219.13 255.80,219.78 258.65,219.36 261.50,220.25 264.35,220.49 267.20,218.46 270.05,219.14 272.90,219.40 275.75,218.54 278.60,219.60 281.45,218.67 284.30,218.77 287.15,220.08 290.00,219.99 292.85,218.13 295.70,213.63 298.55,207.93 301.40,207.92 304.25,211.83 307.10,217.41 309.95,218.59 312.80,223.28 315.65,223.06 318.50,222.79 321.35,222.11 324.20,223.14 327.05,222.08 329.90,222.97 332.75,222.90 335.60,222.92 338.45,223.99 341.30,223.10" fill="none" stroke="#f0b070" stroke-width="0.9" stroke-linejoin="round"/>
</g>
<rect x="198.80" y="158.70" width="142.50" height="70.90" fill="none" stroke="#333" stroke-width="1.1"/>
<rect x="250" y="163.7" width="44.80" height="40.70" fill="#fff" stroke="#333" stroke-width="0.75"/>
<line x1="251.4" x2="267" y1="167.70" y2="167.70" stroke="#8ee08e" stroke-width="0.9"/>
<text x="268.50" y="170.22" font-size="7.0" fill="#111" style="font-family:'Liberation Sans',Arial,sans-serif">3.33 ms</text>
<line x1="251.4" x2="267" y1="175.60" y2="175.60" stroke="#6a62d0" stroke-width="0.9"/>
<text x="268.50" y="178.12" font-size="7.0" fill="#111" style="font-family:'Liberation Sans',Arial,sans-serif">33.3 ms</text>
<line x1="251.4" x2="267" y1="183.50" y2="183.50" stroke="#a8e8f0" stroke-width="0.9"/>
<text x="268.50" y="186.02" font-size="7.0" fill="#111" style="font-family:'Liberation Sans',Arial,sans-serif">333 ms</text>
<line x1="251.4" x2="267" y1="191.40" y2="191.40" stroke="#e05ae0" stroke-width="0.9"/>
<text x="268.50" y="193.92" font-size="7.0" fill="#111" style="font-family:'Liberation Sans',Arial,sans-serif">3.33 s</text>
<line x1="251.4" x2="267" y1="199.30" y2="199.30" stroke="#f0b070" stroke-width="0.9"/>
<text x="268.50" y="201.82" font-size="7.0" fill="#111" style="font-family:'Liberation Sans',Arial,sans-serif">10.0 s</text>
<text x="201.50" y="169.90" font-size="12" font-weight="bold" fill="#000" style="font-family:'Liberation Sans',Arial,sans-serif">h</text>
<text transform="translate(229.20 171.20) rotate(-90)" font-size="8.6" text-anchor="middle" fill="#111" style="font-family:'Liberation Sans',Arial,sans-serif;stroke:#111;stroke-width:0.16">(200)</text>
<text transform="translate(303.40 186.40) rotate(-90)" font-size="8.6" text-anchor="middle" fill="#111" style="font-family:'Liberation Sans',Arial,sans-serif;stroke:#111;stroke-width:0.16">(220)</text>
<text x="198.80" y="239.50" font-size="7.4" text-anchor="middle" fill="#111" style="font-family:'Liberation Sans',Arial,sans-serif;stroke:#111;stroke-width:0.16">40</text>
<text x="227.30" y="239.50" font-size="7.4" text-anchor="middle" fill="#111" style="font-family:'Liberation Sans',Arial,sans-serif;stroke:#111;stroke-width:0.16">50</text>
<text x="255.80" y="239.50" font-size="7.4" text-anchor="middle" fill="#111" style="font-family:'Liberation Sans',Arial,sans-serif;stroke:#111;stroke-width:0.16">60</text>
<text x="284.30" y="239.50" font-size="7.4" text-anchor="middle" fill="#111" style="font-family:'Liberation Sans',Arial,sans-serif;stroke:#111;stroke-width:0.16">70</text>
<text x="312.80" y="239.50" font-size="7.4" text-anchor="middle" fill="#111" style="font-family:'Liberation Sans',Arial,sans-serif;stroke:#111;stroke-width:0.16">80</text>
<text x="341.30" y="239.50" font-size="7.4" text-anchor="middle" fill="#111" style="font-family:'Liberation Sans',Arial,sans-serif;stroke:#111;stroke-width:0.16">90</text>
<text x="195.40" y="232.20" font-size="7.4" text-anchor="end" fill="#111" style="font-family:'Liberation Sans',Arial,sans-serif;stroke:#111;stroke-width:0.16">0</text>
<text x="195.40" y="196.75" font-size="7.4" text-anchor="end" fill="#111" style="font-family:'Liberation Sans',Arial,sans-serif;stroke:#111;stroke-width:0.16">1</text>
<text x="195.40" y="161.30" font-size="7.4" text-anchor="end" fill="#111" style="font-family:'Liberation Sans',Arial,sans-serif;stroke:#111;stroke-width:0.16">2</text>
<text x="271.35" y="247.50" font-size="7.4" text-anchor="middle" fill="#111" style="font-family:'Liberation Sans',Arial,sans-serif;stroke:#111;stroke-width:0.16">Radius (pixels)</text>
<text transform="translate(182.70 196.20) rotate(-90)" font-size="7.4" text-anchor="middle" fill="#111" style="font-family:'Liberation Sans',Arial,sans-serif;stroke:#111;stroke-width:0.16">Counts/pulse/pixel (x10<tspan dy="-2.5" font-size="4.8">-5</tspan><tspan dy="2.5">)</tspan></text>
<path d="M372.20 229.60v-2.0M372.20 158.70v2.0M400.70 229.60v-2.0M400.70 158.70v2.0M429.20 229.60v-2.0M429.20 158.70v2.0M457.70 229.60v-2.0M457.70 158.70v2.0M486.20 229.60v-2.0M486.20 158.70v2.0M514.70 229.60v-2.0M514.70 158.70v2.0M372.20 229.60h2.0M514.70 229.60h-2.0M372.20 219.47h2.0M514.70 219.47h-2.0M372.20 209.34h2.0M514.70 209.34h-2.0M372.20 199.21h2.0M514.70 199.21h-2.0M372.20 189.09h2.0M514.70 189.09h-2.0M372.20 178.96h2.0M514.70 178.96h-2.0M372.20 168.83h2.0M514.70 168.83h-2.0M372.20 158.70h2.0M514.70 158.70h-2.0" stroke="#333" stroke-width="0.7" fill="none"/>
<clipPath id="c6"><rect x="372.20" y="158.70" width="142.50" height="70.90"/></clipPath><g clip-path="url(#c6)">
<polyline points="372.20,204.08 375.05,219.42 377.90,202.67 380.75,216.87 383.60,209.16 386.45,211.67 389.30,208.66 392.15,204.37 395.00,201.52 397.85,214.75 400.70,208.42 403.55,211.09 406.40,191.39 409.25,181.51 412.10,171.03 414.95,184.26 417.80,199.63 420.65,208.59 423.50,206.18 426.35,210.41 429.20,219.65 432.05,213.75 434.90,219.30 437.75,221.96 440.60,213.89 443.45,220.56 446.30,221.80 449.15,220.65 452.00,212.18 454.85,218.37 457.70,219.45 460.55,215.82 463.40,225.43 466.25,222.80 469.10,212.56 471.95,208.76 474.80,212.74 477.65,215.97 480.50,217.64 483.35,225.68 486.20,225.16 489.05,225.17 491.90,221.97 494.75,219.06 497.60,214.65 500.45,226.71 503.30,221.91 506.15,220.56 509.00,222.29 511.85,217.86 514.70,216.83" fill="none" stroke="#3a3a3a" stroke-width="0.85" stroke-linejoin="round"/>
<polyline points="372.20,211.07 375.05,209.21 377.90,210.61 380.75,210.39 383.60,209.12 386.45,209.51 389.30,211.21 392.15,210.53 395.00,210.32 397.85,210.76 400.70,212.65 403.55,206.76 406.40,191.56 409.25,181.19 412.10,172.74 414.95,186.70 417.80,200.94 420.65,209.77 423.50,215.11 426.35,217.92 429.20,220.07 432.05,217.94 434.90,218.64 437.75,218.38 440.60,220.78 443.45,220.57 446.30,221.35 449.15,219.68 452.00,221.17 454.85,221.73 457.70,221.19 460.55,220.15 463.40,221.70 466.25,221.60 469.10,218.84 471.95,211.83 474.80,208.15 477.65,210.86 480.50,217.98 483.35,221.60 486.20,221.53 489.05,222.70 491.90,223.59 494.75,221.40 497.60,222.17 500.45,221.75 503.30,223.56 506.15,221.61 509.00,223.61 511.85,221.59 514.70,222.63" fill="none" stroke="#e85a5a" stroke-width="0.85" stroke-linejoin="round"/>
<polyline points="372.20,210.98 375.05,210.66 377.90,210.09 380.75,211.09 383.60,211.30 386.45,210.70 389.30,211.14 392.15,211.33 395.00,211.25 397.85,211.42 400.70,212.68 403.55,207.06 406.40,193.17 409.25,180.57 412.10,174.33 414.95,187.41 417.80,200.81 420.65,209.98 423.50,216.44 426.35,218.56 429.20,219.91 432.05,219.02 434.90,219.50 437.75,220.25 440.60,220.01 443.45,219.51 446.30,220.97 449.15,220.08 452.00,220.87 454.85,220.97 457.70,220.65 460.55,221.52 463.40,222.64 466.25,220.88 469.10,217.45 471.95,213.46 474.80,208.25 477.65,211.42 480.50,216.99 483.35,220.81 486.20,222.39 489.05,223.33 491.90,223.21 494.75,223.30 497.60,222.29 500.45,223.02 503.30,223.16 506.15,223.28 509.00,222.13 511.85,222.09 514.70,222.39" fill="none" stroke="#8ee08e" stroke-width="0.85" stroke-linejoin="round"/>
<polyline points="372.20,210.11 375.05,210.17 377.90,210.09 380.75,209.84 383.60,210.30 386.45,209.86 389.30,210.14 392.15,209.08 395.00,209.06 397.85,209.71 400.70,211.73 403.55,204.90 406.40,191.29 409.25,178.70 412.10,171.94 414.95,185.44 417.80,198.86 420.65,208.73 423.50,215.45 426.35,217.60 429.20,219.40 432.05,219.21 434.90,219.69 437.75,219.42 440.60,220.18 443.45,220.41 446.30,220.20 449.15,220.51 452.00,220.19 454.85,220.48 457.70,220.35 460.55,220.70 463.40,221.97 466.25,220.16 469.10,217.77 471.95,212.65 474.80,206.96 477.65,211.35 480.50,216.22 483.35,219.99 486.20,222.47 489.05,221.79 491.90,221.70 494.75,222.10 497.60,221.94 500.45,221.82 503.30,222.85 506.15,222.26 509.00,222.29 511.85,221.79 514.70,221.83" fill="none" stroke="#f0b070" stroke-width="0.85" stroke-linejoin="round"/>
<polyline points="372.20,211.78 375.05,212.15 377.90,211.68 380.75,212.00 383.60,211.99 386.45,212.69 389.30,212.99 392.15,212.84 395.00,212.49 397.85,212.88 400.70,213.14 403.55,208.54 406.40,195.68 409.25,184.74 412.10,178.28 414.95,190.87 417.80,203.46 420.65,210.92 423.50,216.46 426.35,219.11 429.20,219.98 432.05,219.97 434.90,221.05 437.75,220.22 440.60,221.13 443.45,221.59 446.30,221.48 449.15,220.96 452.00,221.93 454.85,221.30 457.70,221.13 460.55,222.04 463.40,223.40 466.25,221.88 469.10,218.84 471.95,214.15 474.80,210.28 477.65,212.97 480.50,218.85 483.35,221.93 486.20,223.14 489.05,222.85 491.90,223.52 494.75,223.12 497.60,223.96 500.45,223.89 503.30,223.57 506.15,222.96 509.00,222.93 511.85,222.95 514.70,223.54" fill="none" stroke="#6a62d0" stroke-width="0.85" stroke-linejoin="round"/>
<polyline points="372.20,211.29 375.05,211.37 377.90,211.37 380.75,211.90 383.60,210.72 386.45,211.77 389.30,210.59 392.15,210.66 395.00,212.05 397.85,211.38 400.70,212.28 403.55,206.76 406.40,194.07 409.25,182.80 412.10,176.16 414.95,188.03 417.80,201.65 420.65,210.23 423.50,216.67 426.35,218.50 429.20,218.81 432.05,220.25 434.90,219.40 437.75,220.06 440.60,219.68 443.45,220.15 446.30,221.06 449.15,220.24 452.00,221.06 454.85,221.95 457.70,222.18 460.55,221.63 463.40,222.94 466.25,221.72 469.10,219.08 471.95,213.96 474.80,209.67 477.65,211.76 480.50,218.33 483.35,220.56 486.20,221.87 489.05,223.44 491.90,222.22 494.75,222.54 497.60,222.25 500.45,223.18 503.30,223.06 506.15,223.03 509.00,222.11 511.85,222.73 514.70,223.08" fill="none" stroke="#a8e8f0" stroke-width="0.85" stroke-linejoin="round"/>
<polyline points="372.20,210.47 375.05,210.70 377.90,211.04 380.75,210.96 383.60,209.85 386.45,210.68 389.30,209.69 392.15,210.74 395.00,210.71 397.85,210.34 400.70,212.35 403.55,206.50 406.40,191.43 409.25,179.39 412.10,172.41 414.95,186.35 417.80,199.09 420.65,208.67 423.50,215.35 426.35,217.62 429.20,219.65 432.05,218.81 434.90,219.44 437.75,219.19 440.60,219.56 443.45,220.30 446.30,220.87 449.15,219.73 452.00,221.15 454.85,220.83 457.70,221.23 460.55,221.50 463.40,222.15 466.25,220.27 469.10,218.32 471.95,212.65 474.80,208.63 477.65,211.28 480.50,217.10 483.35,220.99 486.20,222.52 489.05,222.95 491.90,221.89 494.75,222.51 497.60,222.94 500.45,221.89 503.30,221.76 506.15,222.59 509.00,223.06 511.85,222.98 514.70,223.13" fill="none" stroke="#e05ae0" stroke-width="0.85" stroke-linejoin="round"/>
</g>
<rect x="372.20" y="158.70" width="142.50" height="70.90" fill="none" stroke="#333" stroke-width="1.1"/>
<rect x="427.1" y="162.5" width="40.70" height="46.30" fill="#fff" stroke="#333" stroke-width="0.75"/>
<line x1="428.3" x2="442.3" y1="167.40" y2="167.40" stroke="#3a3a3a" stroke-width="0.9"/>
<text x="443.70" y="169.78" font-size="6.6" fill="#111" style="font-family:'Liberation Sans',Arial,sans-serif">33.3 μs</text>
<line x1="428.3" x2="442.3" y1="174.82" y2="174.82" stroke="#e85a5a" stroke-width="0.9"/>
<text x="443.70" y="177.20" font-size="6.6" fill="#111" style="font-family:'Liberation Sans',Arial,sans-serif">300 μs</text>
<line x1="428.3" x2="442.3" y1="182.24" y2="182.24" stroke="#8ee08e" stroke-width="0.9"/>
<text x="443.70" y="184.62" font-size="6.6" fill="#111" style="font-family:'Liberation Sans',Arial,sans-serif">3.33 ms</text>
<line x1="428.3" x2="442.3" y1="189.66" y2="189.66" stroke="#6a62d0" stroke-width="0.9"/>
<text x="443.70" y="192.04" font-size="6.6" fill="#111" style="font-family:'Liberation Sans',Arial,sans-serif">33.3 ms</text>
<line x1="428.3" x2="442.3" y1="197.08" y2="197.08" stroke="#a8e8f0" stroke-width="0.9"/>
<text x="443.70" y="199.46" font-size="6.6" fill="#111" style="font-family:'Liberation Sans',Arial,sans-serif">333 ms</text>
<line x1="428.3" x2="442.3" y1="204.50" y2="204.50" stroke="#e05ae0" stroke-width="0.9"/>
<text x="443.70" y="206.88" font-size="6.6" fill="#111" style="font-family:'Liberation Sans',Arial,sans-serif">3.33 s</text>
<text x="374.90" y="169.90" font-size="12" font-weight="bold" fill="#000" style="font-family:'Liberation Sans',Arial,sans-serif">i</text>
<text transform="translate(405.60 169.40) rotate(-90)" font-size="8.6" text-anchor="middle" fill="#111" style="font-family:'Liberation Sans',Arial,sans-serif;stroke:#111;stroke-width:0.16">(200)</text>
<text transform="translate(478.20 191.80) rotate(-90)" font-size="8.6" text-anchor="middle" fill="#111" style="font-family:'Liberation Sans',Arial,sans-serif;stroke:#111;stroke-width:0.16">(220)</text>
<text x="372.20" y="239.50" font-size="7.4" text-anchor="middle" fill="#111" style="font-family:'Liberation Sans',Arial,sans-serif;stroke:#111;stroke-width:0.16">40</text>
<text x="400.70" y="239.50" font-size="7.4" text-anchor="middle" fill="#111" style="font-family:'Liberation Sans',Arial,sans-serif;stroke:#111;stroke-width:0.16">50</text>
<text x="429.20" y="239.50" font-size="7.4" text-anchor="middle" fill="#111" style="font-family:'Liberation Sans',Arial,sans-serif;stroke:#111;stroke-width:0.16">60</text>
<text x="457.70" y="239.50" font-size="7.4" text-anchor="middle" fill="#111" style="font-family:'Liberation Sans',Arial,sans-serif;stroke:#111;stroke-width:0.16">70</text>
<text x="486.20" y="239.50" font-size="7.4" text-anchor="middle" fill="#111" style="font-family:'Liberation Sans',Arial,sans-serif;stroke:#111;stroke-width:0.16">80</text>
<text x="514.70" y="239.50" font-size="7.4" text-anchor="middle" fill="#111" style="font-family:'Liberation Sans',Arial,sans-serif;stroke:#111;stroke-width:0.16">90</text>
<text x="368.80" y="232.20" font-size="7.4" text-anchor="end" fill="#111" style="font-family:'Liberation Sans',Arial,sans-serif;stroke:#111;stroke-width:0.16">0</text>
<text x="368.80" y="222.07" font-size="7.4" text-anchor="end" fill="#111" style="font-family:'Liberation Sans',Arial,sans-serif;stroke:#111;stroke-width:0.16">2</text>
<text x="368.80" y="211.94" font-size="7.4" text-anchor="end" fill="#111" style="font-family:'Liberation Sans',Arial,sans-serif;stroke:#111;stroke-width:0.16">4</text>
<text x="368.80" y="201.81" font-size="7.4" text-anchor="end" fill="#111" style="font-family:'Liberation Sans',Arial,sans-serif;stroke:#111;stroke-width:0.16">6</text>
<text x="368.80" y="191.69" font-size="7.4" text-anchor="end" fill="#111" style="font-family:'Liberation Sans',Arial,sans-serif;stroke:#111;stroke-width:0.16">8</text>
<text x="368.80" y="181.56" font-size="7.4" text-anchor="end" fill="#111" style="font-family:'Liberation Sans',Arial,sans-serif;stroke:#111;stroke-width:0.16">10</text>
<text x="368.80" y="171.43" font-size="7.4" text-anchor="end" fill="#111" style="font-family:'Liberation Sans',Arial,sans-serif;stroke:#111;stroke-width:0.16">12</text>
<text x="368.80" y="161.30" font-size="7.4" text-anchor="end" fill="#111" style="font-family:'Liberation Sans',Arial,sans-serif;stroke:#111;stroke-width:0.16">14</text>
<text x="444.75" y="247.50" font-size="7.4" text-anchor="middle" fill="#111" style="font-family:'Liberation Sans',Arial,sans-serif;stroke:#111;stroke-width:0.16">Radius (pixels)</text>
<text transform="translate(353.40 196.70) rotate(-90)" font-size="7.4" text-anchor="middle" fill="#111" style="font-family:'Liberation Sans',Arial,sans-serif;stroke:#111;stroke-width:0.16">Counts/pulse/pixel (x10<tspan dy="-2.5" font-size="4.8">-4</tspan><tspan dy="2.5">)</tspan></text>
</svg></body></html>
